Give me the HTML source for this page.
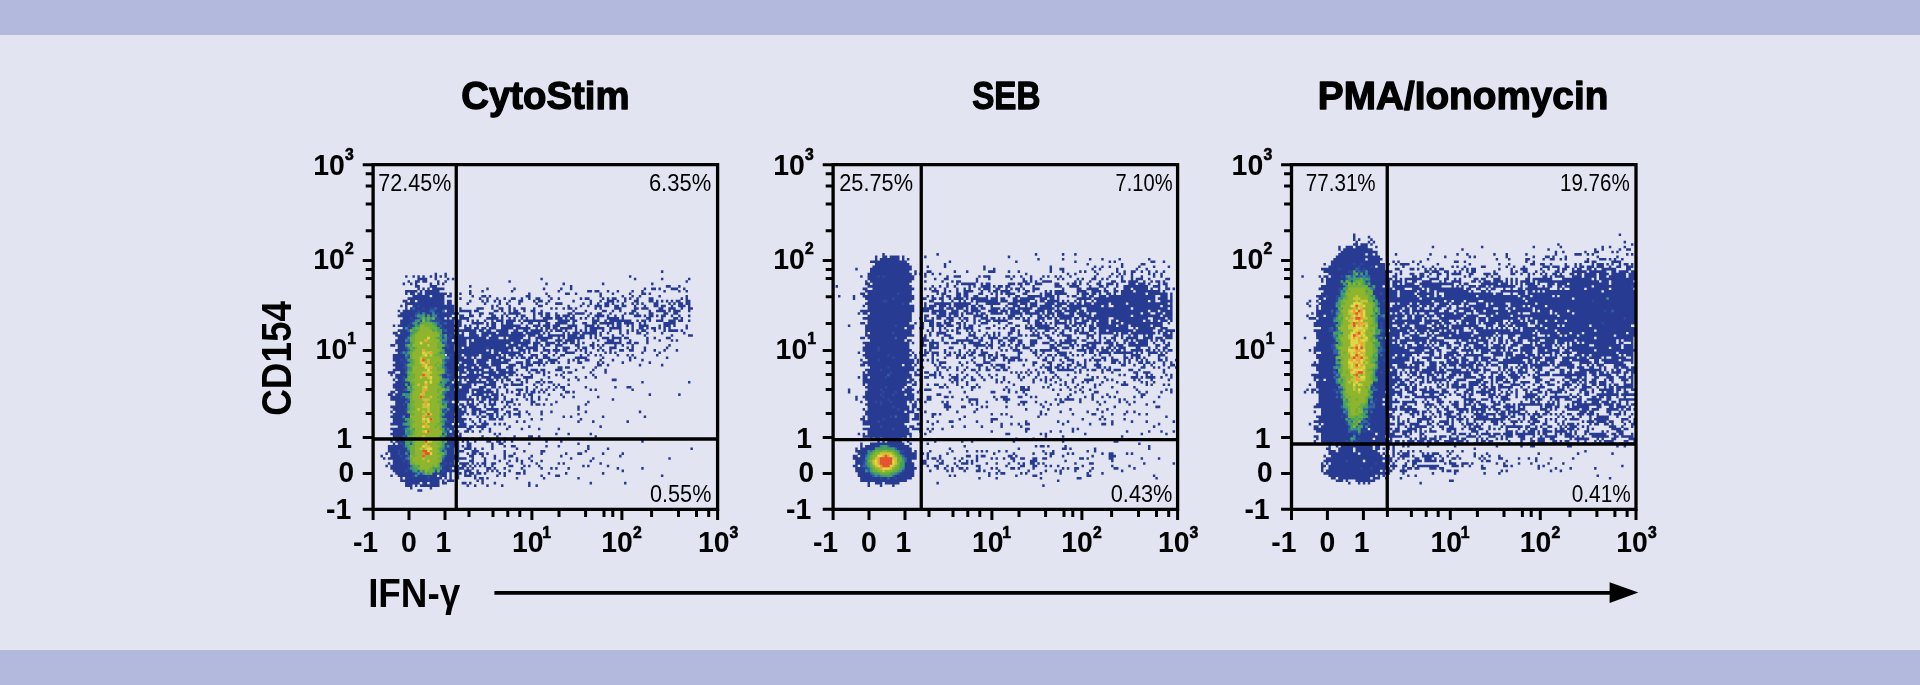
<!DOCTYPE html>
<html lang="en"><head><meta charset="utf-8"><title>CD154 / IFN-γ flow cytometry</title>
<style>html,body{margin:0;padding:0;background:#e2e4f1}body{width:1920px;height:685px;overflow:hidden}svg{display:block;will-change:transform}text{font-family:"Liberation Sans",sans-serif;fill:#000}.b{font-weight:bold}</style></head><body>
<svg width="1920" height="685" viewBox="0 0 1920 685">
<rect width="1920" height="685" fill="#e2e4f1"/>
<rect width="1920" height="35" fill="#b3b9dd"/><rect y="650" width="1920" height="35" fill="#b3b9dd"/>
<g transform="translate(373.1 165.83) scale(2.46)" fill="none" stroke-width="1.06">
<path stroke="#283b93" d="M117 43h1M25 44h1M29 44h1M13 45h1M16 45h1M18 45h1M20 45h1M23 45h1M25 45h1M27 45h1M29 45h1M104 45h1M18 46h4M25 46h1M30 46h1M32 46h1M68 46h1M106 46h1M117 46h1M128 46h1M14 47h1M17 47h2M20 47h2M26 47h1M29 47h1M55 47h1M127 47h1M12 48h1M15 48h1M17 48h1M23 48h1M26 48h1M28 48h1M70 48h1M77 48h1M93 48h1M113 48h1M17 49h2M23 49h3M39 49h1M80 49h1M119 49h2M124 49h1M18 50h1M20 50h1M22 50h1M24 50h5M46 50h1M57 50h1M69 50h1M76 50h1M80 50h1M110 50h1M113 50h2M116 50h1M121 50h3M126 50h1M13 51h5M19 51h1M21 51h6M39 51h1M44 51h1M56 51h1M75 51h1M87 51h2M90 51h2M95 51h1M99 51h1M105 51h1M109 51h1M118 51h1M124 51h1M127 51h1M13 52h1M15 52h2M18 52h2M21 52h9M31 52h1M35 52h1M39 52h1M63 52h1M70 52h1M78 52h2M82 52h1M92 52h1M97 52h1M104 52h1M109 52h2M112 52h1M16 53h7M24 53h5M30 53h2M40 53h1M44 53h2M47 53h1M62 53h2M71 53h1M92 53h1M101 53h1M105 53h1M108 53h1M116 53h1M127 53h1M14 54h15M35 54h1M43 54h1M46 54h1M50 54h1M53 54h1M56 54h2M60 54h1M63 54h1M66 54h2M72 54h1M75 54h1M84 54h1M86 54h2M93 54h1M95 54h1M97 54h2M102 54h1M104 54h1M107 54h1M112 54h2M125 54h1M127 54h1M12 55h2M15 55h2M18 55h11M30 55h2M39 55h1M44 55h1M46 55h1M49 55h1M51 55h1M55 55h1M59 55h2M65 55h1M67 55h2M71 55h1M81 55h1M88 55h1M92 55h1M95 55h3M99 55h1M102 55h1M106 55h2M112 55h2M115 55h1M117 55h1M119 55h1M121 55h1M123 55h2M127 55h2M13 56h16M30 56h2M38 56h1M45 56h1M51 56h1M54 56h1M59 56h1M66 56h1M70 56h1M74 56h3M85 56h1M88 56h1M91 56h1M94 56h2M97 56h1M101 56h1M105 56h1M107 56h1M109 56h1M114 56h2M120 56h1M122 56h1M124 56h2M127 56h2M11 57h1M13 57h1M16 57h17M48 57h1M50 57h1M55 57h1M67 57h2M79 57h1M84 57h1M87 57h1M90 57h3M94 57h2M98 57h2M101 57h2M106 57h1M110 57h1M114 57h2M117 57h2M121 57h1M124 57h3M128 57h1M13 58h1M15 58h18M35 58h1M42 58h3M48 58h1M51 58h2M55 58h1M57 58h1M60 58h2M65 58h1M72 58h1M74 58h1M77 58h1M79 58h2M82 58h1M90 58h1M92 58h1M98 58h3M106 58h2M109 58h3M116 58h2M120 58h3M125 58h1M128 58h2M10 59h1M12 59h17M30 59h3M35 59h5M41 59h2M49 59h2M52 59h1M55 59h1M57 59h2M61 59h1M64 59h2M68 59h1M81 59h1M86 59h1M93 59h2M97 59h1M100 59h1M105 59h2M112 59h1M115 59h4M120 59h1M122 59h3M128 59h1M11 60h24M39 60h1M43 60h2M47 60h2M53 60h1M55 60h5M65 60h1M67 60h2M70 60h2M74 60h1M79 60h2M82 60h4M88 60h1M91 60h2M96 60h1M102 60h1M104 60h2M107 60h1M112 60h2M118 60h2M122 60h2M10 61h22M35 61h2M39 61h2M43 61h1M48 61h2M52 61h1M54 61h1M58 61h1M60 61h2M65 61h1M68 61h1M70 61h2M74 61h2M77 61h3M81 61h1M87 61h1M90 61h4M95 61h1M98 61h1M101 61h1M106 61h3M110 61h1M112 61h2M115 61h1M117 61h2M121 61h1M124 61h1M128 61h1M12 62h17M30 62h1M32 62h2M35 62h4M46 62h5M52 62h1M55 62h1M57 62h1M60 62h1M62 62h1M65 62h1M69 62h4M74 62h3M78 62h1M80 62h2M84 62h1M86 62h1M89 62h1M91 62h1M95 62h5M101 62h1M111 62h2M117 62h1M122 62h2M125 62h1M11 63h22M34 63h2M38 63h1M40 63h1M42 63h1M45 63h1M48 63h1M50 63h3M54 63h4M59 63h1M61 63h10M75 63h5M81 63h2M89 63h3M94 63h1M96 63h9M107 63h1M109 63h2M112 63h1M115 63h3M120 63h3M124 63h2M128 63h1M11 64h22M34 64h2M40 64h5M46 64h1M48 64h2M52 64h1M54 64h3M60 64h1M63 64h2M67 64h1M70 64h2M74 64h5M81 64h1M85 64h2M89 64h2M92 64h6M99 64h2M102 64h4M108 64h1M110 64h1M118 64h5M8 65h1M10 65h26M37 65h1M39 65h1M42 65h1M46 65h1M48 65h2M52 65h8M62 65h1M65 65h3M69 65h3M73 65h3M79 65h4M86 65h4M91 65h1M95 65h1M97 65h1M99 65h2M103 65h1M105 65h1M108 65h4M116 65h1M118 65h3M122 65h1M127 65h1M12 66h21M34 66h1M37 66h3M41 66h2M44 66h2M47 66h3M52 66h5M58 66h6M66 66h1M68 66h1M70 66h2M73 66h2M76 66h5M82 66h1M86 66h1M88 66h6M96 66h5M105 66h1M108 66h2M111 66h1M113 66h2M116 66h1M118 66h1M120 66h1M127 66h1M10 67h32M43 67h2M46 67h2M50 67h5M57 67h2M61 67h2M64 67h5M70 67h1M72 67h1M74 67h3M78 67h1M82 67h1M84 67h1M86 67h1M88 67h3M93 67h1M96 67h1M100 67h1M103 67h1M105 67h1M107 67h1M109 67h2M114 67h1M118 67h1M120 67h4M125 67h1M8 68h2M11 68h22M34 68h1M36 68h1M39 68h3M44 68h6M51 68h4M56 68h5M62 68h6M69 68h1M71 68h1M77 68h1M79 68h1M81 68h3M85 68h6M92 68h1M95 68h1M100 68h1M103 68h1M107 68h2M111 68h1M117 68h1M126 68h1M9 69h28M39 69h4M44 69h3M48 69h14M63 69h3M67 69h2M71 69h7M79 69h4M84 69h2M88 69h1M90 69h1M92 69h1M97 69h1M101 69h1M110 69h1M121 69h1M128 69h2M10 70h36M47 70h4M53 70h1M55 70h6M63 70h1M66 70h7M75 70h1M77 70h1M79 70h7M88 70h1M90 70h1M93 70h3M97 70h4M102 70h2M111 70h1M114 70h1M119 70h2M9 71h23M33 71h5M39 71h1M41 71h19M61 71h3M66 71h1M68 71h3M74 71h3M78 71h4M83 71h1M91 71h1M95 71h3M100 71h1M104 71h1M111 71h1M116 71h1M121 71h1M123 71h1M9 72h29M39 72h17M57 72h7M65 72h3M70 72h4M75 72h1M77 72h2M80 72h2M83 72h1M85 72h1M89 72h1M94 72h7M103 72h2M106 72h2M111 72h1M7 73h2M10 73h23M34 73h4M39 73h15M55 73h4M60 73h3M65 73h2M68 73h1M70 73h2M74 73h3M82 73h2M88 73h2M91 73h1M93 73h1M98 73h1M101 73h1M105 73h1M120 73h1M10 74h23M34 74h2M37 74h20M58 74h3M62 74h5M69 74h1M74 74h1M77 74h3M83 74h1M85 74h2M89 74h1M92 74h1M96 74h3M103 74h1M105 74h1M110 74h1M119 74h1M9 75h24M34 75h12M47 75h1M49 75h6M56 75h1M59 75h3M63 75h1M65 75h2M69 75h3M73 75h3M77 75h2M82 75h1M84 75h1M86 75h1M91 75h1M93 75h1M96 75h1M100 75h2M104 75h2M110 75h1M114 75h1M118 75h1M123 75h1M10 76h38M49 76h2M52 76h8M61 76h1M63 76h1M68 76h1M71 76h1M74 76h1M78 76h4M86 76h1M88 76h1M94 76h1M96 76h1M98 76h1M109 76h1M116 76h1M8 77h21M30 77h6M37 77h6M44 77h8M53 77h1M55 77h3M59 77h2M64 77h3M69 77h2M73 77h1M76 77h2M84 77h1M87 77h1M90 77h1M92 77h1M99 77h1M103 77h1M105 77h1M115 77h1M8 78h29M38 78h2M41 78h1M44 78h6M51 78h3M56 78h1M58 78h1M60 78h2M63 78h2M66 78h1M69 78h3M75 78h1M82 78h5M93 78h1M104 78h1M106 78h1M119 78h1M8 79h33M42 79h5M48 79h4M53 79h3M62 79h2M67 79h2M71 79h4M79 79h1M81 79h1M83 79h1M86 79h2M92 79h1M97 79h1M104 79h1M109 79h1M9 80h26M36 80h5M42 80h4M48 80h7M58 80h3M62 80h2M65 80h4M70 80h1M72 80h2M75 80h1M79 80h1M83 80h2M91 80h1M93 80h1M101 80h1M112 80h1M8 81h26M35 81h2M38 81h4M43 81h4M48 81h4M55 81h3M60 81h1M62 81h3M67 81h1M69 81h1M91 81h2M95 81h1M108 81h1M117 81h1M9 82h31M41 82h2M44 82h4M50 82h2M54 82h3M60 82h3M75 82h2M78 82h2M85 82h1M90 82h1M8 83h29M38 83h7M47 83h2M50 83h4M55 83h2M58 83h1M62 83h1M64 83h3M68 83h2M74 83h3M82 83h1M89 83h1M94 83h1M6 84h3M11 84h23M35 84h3M39 84h2M42 84h1M44 84h6M51 84h7M63 84h1M66 84h2M69 84h1M71 84h1M77 84h1M79 84h2M88 84h1M94 84h1M7 85h1M9 85h25M35 85h1M38 85h7M47 85h7M55 85h2M58 85h1M60 85h1M64 85h1M69 85h1M74 85h1M76 85h1M89 85h1M9 86h34M44 86h4M49 86h3M53 86h2M61 86h4M71 86h1M77 86h1M82 86h1M86 86h1M90 86h1M8 87h1M10 87h23M35 87h1M37 87h1M39 87h3M43 87h1M46 87h3M50 87h1M52 87h1M54 87h2M58 87h2M62 87h1M68 87h1M79 87h1M83 87h1M97 87h2M9 88h23M33 88h3M38 88h8M47 88h3M52 88h1M56 88h1M60 88h1M62 88h1M66 88h2M69 88h1M71 88h2M109 88h1M128 88h1M8 89h32M41 89h1M45 89h5M53 89h2M56 89h5M65 89h1M68 89h1M73 89h1M75 89h1M79 89h1M8 90h27M36 90h4M43 90h3M48 90h2M51 90h1M53 90h1M62 90h1M66 90h1M71 90h1M74 90h1M76 90h2M86 90h1M98 90h1M103 90h2M9 91h24M34 91h5M40 91h5M46 91h2M50 91h1M54 91h1M58 91h3M62 91h1M65 91h1M68 91h1M70 91h1M73 91h1M77 91h1M88 91h1M90 91h1M105 91h1M7 92h2M10 92h29M40 92h1M42 92h7M50 92h1M54 92h1M56 92h1M59 92h1M62 92h1M64 92h2M67 92h1M69 92h1M78 92h2M81 92h1M6 93h2M9 93h29M40 93h5M46 93h1M48 93h3M52 93h1M58 93h2M61 93h1M63 93h2M71 93h1M76 93h1M112 93h1M124 93h1M7 94h31M39 94h1M42 94h1M44 94h4M49 94h2M53 94h1M61 94h1M64 94h1M67 94h1M77 94h1M81 94h1M91 94h1M7 95h34M42 95h1M44 95h2M47 95h4M53 95h1M56 95h1M58 95h1M62 95h1M64 95h1M67 95h1M70 95h1M97 95h1M9 96h23M34 96h1M38 96h1M40 96h1M43 96h2M47 96h1M49 96h1M52 96h1M54 96h3M64 96h2M74 96h1M87 96h1M9 97h25M35 97h2M38 97h3M42 97h1M45 97h1M47 97h3M54 97h1M57 97h1M59 97h1M64 97h1M66 97h2M69 97h1M72 97h1M86 97h1M7 98h28M36 98h2M39 98h3M45 98h1M48 98h1M53 98h1M55 98h1M83 98h1M8 99h28M37 99h1M40 99h4M46 99h5M52 99h1M57 99h2M83 99h1M7 100h1M9 100h29M40 100h2M43 100h3M49 100h2M54 100h2M59 100h1M62 100h1M68 100h1M72 100h1M86 100h1M108 100h1M8 101h25M34 101h3M38 101h1M40 101h2M43 101h1M46 101h3M50 101h1M53 101h1M55 101h1M57 101h3M63 101h1M68 101h1M83 101h1M7 102h29M42 102h1M44 102h2M47 102h2M50 102h1M52 102h1M55 102h1M59 102h1M77 102h1M80 102h1M93 102h1M110 102h1M8 103h25M34 103h4M39 103h1M43 103h1M47 103h3M51 103h2M64 103h1M68 103h1M84 103h1M8 104h25M34 104h3M40 104h1M43 104h1M45 104h1M58 104h1M61 104h1M83 104h1M89 104h1M103 104h1M7 105h25M33 105h1M35 105h3M41 105h1M44 105h3M49 105h1M51 105h1M53 105h1M10 106h28M39 106h2M42 106h4M55 106h1M63 106h1M92 106h1M7 107h26M38 107h2M44 107h1M47 107h1M54 107h1M60 107h1M67 107h1M75 107h1M8 108h23M32 108h3M37 108h2M40 108h1M43 108h1M47 108h1M7 109h27M35 109h1M49 109h1M51 109h1M74 109h1M79 109h1M88 109h1M8 110h28M44 110h1M50 110h1M57 110h1M63 110h2M67 110h1M90 110h1M8 111h24M33 111h6M40 111h1M43 111h1M46 111h1M53 111h1M7 112h1M9 112h26M36 112h1M38 112h1M41 112h1M46 112h2M50 112h2M53 112h1M56 112h1M70 112h1M76 112h1M109 112h1M8 113h1M10 113h25M38 113h2M48 113h1M51 113h2M63 113h1M83 113h1M6 114h29M36 114h1M38 114h2M48 114h1M53 114h1M56 114h2M70 114h1M75 114h1M87 114h1M6 115h27M34 115h1M37 115h3M41 115h1M44 115h1M48 115h1M58 115h1M87 115h1M95 115h1M129 115h1M6 116h27M34 116h3M40 116h3M53 116h1M61 116h1M68 116h2M86 116h1M5 117h1M7 117h26M34 117h1M38 117h1M40 117h2M43 117h2M46 117h1M53 117h1M57 117h1M68 117h1M78 117h1M83 117h2M93 117h1M101 117h1M3 118h1M7 118h28M39 118h2M44 118h1M49 118h1M53 118h1M55 118h2M64 118h1M76 118h1M100 118h1M4 119h1M6 119h32M40 119h1M45 119h1M49 119h1M53 119h1M58 119h1M63 119h1M80 119h1M89 119h1M120 119h1M8 120h25M34 120h1M39 120h2M45 120h1M51 120h1M55 120h1M58 120h1M60 120h1M64 120h1M68 120h1M88 120h1M6 121h1M8 121h25M35 121h4M40 121h1M42 121h1M44 121h2M48 121h2M54 121h1M60 121h1M66 121h1M75 121h1M77 121h1M92 121h1M5 122h1M7 122h28M36 122h2M39 122h1M41 122h1M43 122h1M45 122h1M48 122h1M55 122h2M61 122h1M63 122h1M67 122h1M85 122h1M87 122h1M95 122h1M7 123h25M33 123h4M38 123h1M40 123h1M46 123h2M49 123h1M53 123h1M60 123h1M68 123h1M72 123h1M74 123h1M79 123h1M99 123h1M109 123h1M8 124h27M37 124h3M42 124h1M46 124h1M48 124h1M50 124h1M55 124h1M61 124h1M101 124h1M9 125h21M31 125h1M34 125h2M37 125h1M39 125h2M42 125h2M45 125h1M51 125h1M53 125h1M58 125h2M61 125h1M71 125h1M78 125h1M93 125h1M7 126h1M10 126h16M27 126h3M31 126h1M34 126h1M37 126h3M41 126h1M50 126h1M53 126h1M68 126h1M74 126h2M117 126h1M11 127h1M13 127h15M29 127h1M31 127h1M34 127h1M41 127h1M43 127h2M46 127h1M58 127h1M69 127h1M83 127h1M11 128h16M28 128h1M30 128h3M42 128h1M44 128h1M13 129h6M20 129h2M23 129h4M28 129h2M36 129h2M39 129h1M44 129h1M49 129h1M63 129h1M88 129h1M102 129h1M13 130h3M17 130h1M19 130h8M38 130h1M41 130h1M46 130h1M52 130h1M63 130h1M66 130h1M15 131h1M23 131h1M18 132h2"/>
<path stroke="#2d489d" d="M18 57h1M16 58h1M20 58h1M23 58h3M18 59h1M23 59h2M28 59h1M17 60h2M20 60h2M24 60h1M26 60h1M17 61h9M15 62h1M18 62h9M16 63h12M15 64h12M28 64h2M14 65h1M16 65h12M13 66h1M15 66h14M14 67h16M15 68h13M14 69h16M31 69h1M13 70h18M13 71h17M61 71h1M13 72h17M13 73h18M13 74h16M30 74h1M46 74h1M14 75h15M11 76h19M13 77h16M31 77h1M13 78h18M11 79h1M13 79h18M12 80h1M14 80h16M13 81h16M12 82h18M13 83h18M13 84h17M14 85h15M30 85h2M12 86h1M14 86h15M30 86h1M12 87h19M14 88h16M13 89h1M15 89h14M31 89h1M14 90h17M12 91h19M15 92h15M12 93h17M11 94h1M13 94h17M14 95h15M30 95h1M13 96h18M12 97h1M14 97h16M14 98h16M13 99h16M30 99h1M13 100h17M15 101h14M12 102h1M14 102h15M12 103h18M14 104h17M12 105h17M14 106h16M12 107h19M13 108h18M13 109h17M12 110h18M32 110h1M13 111h18M13 112h17M11 113h1M13 113h16M12 114h19M14 115h16M10 116h1M13 116h17M10 117h1M13 117h1M15 117h15M11 118h1M14 118h16M13 119h16M12 120h1M14 120h15M14 121h13M29 121h1M31 121h1M15 122h14M14 123h14M31 123h1M13 124h1M16 124h11M28 124h1M17 125h7M16 126h2M22 126h1M27 126h1M22 127h1"/>
<path stroke="#3164a4" d="M16 58h1M25 58h1M23 59h2M28 59h1M18 60h1M20 60h1M24 60h1M17 61h4M22 61h1M24 61h2M19 62h6M17 63h2M20 63h4M16 64h2M19 64h8M29 64h1M17 65h9M27 65h1M13 66h1M16 66h11M14 67h14M29 67h1M15 68h13M15 69h15M14 70h14M29 70h1M13 71h17M15 72h13M29 72h1M13 73h17M14 74h14M14 75h15M12 76h17M13 77h16M13 78h1M15 78h16M14 79h15M15 80h15M13 81h16M14 82h16M14 83h16M13 84h17M14 85h14M30 85h1M14 86h14M13 87h18M15 88h15M13 89h1M15 89h14M14 90h15M30 90h1M13 91h18M15 92h15M12 93h17M13 94h16M14 95h15M13 96h1M15 96h16M14 97h16M14 98h16M14 99h15M30 99h1M14 100h14M29 100h1M15 101h14M12 102h1M15 102h13M13 103h17M14 104h15M12 105h17M14 106h14M13 107h16M30 107h1M13 108h17M13 109h15M29 109h1M12 110h1M14 110h16M13 111h17M13 112h17M13 113h2M16 113h13M13 114h16M30 114h1M14 115h15M14 116h14M29 116h1M13 117h1M15 117h15M14 118h15M13 119h16M15 120h13M15 121h12M15 122h13M15 123h13M16 124h2M19 124h6M26 124h1M18 125h1M20 125h4M17 126h1"/>
<path stroke="#368a94" d="M20 60h1M24 60h1M18 61h3M22 61h1M24 61h2M19 62h6M17 63h2M20 63h3M16 64h2M19 64h7M17 65h9M13 66h1M16 66h11M15 67h13M15 68h13M15 69h13M29 69h1M14 70h14M29 70h1M13 71h1M15 71h15M15 72h13M13 73h16M14 74h14M15 75h14M12 76h1M14 76h15M13 77h1M15 77h14M15 78h16M14 79h15M15 80h14M14 81h15M14 82h15M14 83h15M14 84h15M14 85h14M14 86h14M13 87h18M15 88h12M28 88h2M13 89h1M15 89h14M14 90h15M30 90h1M14 91h17M15 92h14M12 93h17M13 94h16M15 95h13M15 96h15M14 97h14M29 97h1M14 98h16M14 99h14M30 99h1M14 100h14M15 101h14M12 102h1M15 102h13M13 103h17M14 104h15M12 105h17M15 106h13M13 107h16M30 107h1M13 108h16M13 109h15M29 109h1M14 110h15M13 111h17M13 112h17M13 113h2M16 113h13M13 114h16M30 114h1M14 115h15M15 116h13M29 116h1M13 117h1M15 117h15M15 118h14M14 119h14M15 120h13M15 121h12M16 122h11M15 123h13M16 124h2M19 124h6M26 124h1M18 125h1M20 125h4M17 126h1"/>
<path stroke="#43a35c" d="M18 61h1M20 61h1M22 61h1M20 62h1M22 62h1M24 62h1M18 63h1M20 63h1M22 63h1M17 64h1M19 64h6M17 65h1M19 65h7M16 66h11M15 67h13M16 68h12M15 69h12M29 69h1M15 70h13M15 71h12M15 72h13M14 73h15M15 74h13M15 75h14M14 76h13M28 76h1M15 77h14M15 78h14M14 79h14M15 80h14M14 81h14M15 82h13M14 83h15M14 84h15M14 85h13M14 86h14M13 87h16M15 88h12M28 88h1M13 89h1M15 89h14M14 90h1M16 90h12M14 91h17M15 92h13M12 93h1M15 93h13M14 94h15M15 95h13M15 96h13M14 97h14M29 97h1M14 98h16M15 99h13M14 100h14M15 101h14M15 102h13M13 103h16M14 104h14M13 105h16M15 106h13M14 107h15M13 108h1M15 108h14M15 109h13M29 109h1M14 110h15M13 111h17M13 112h2M16 112h12M29 112h1M13 113h2M16 113h13M14 114h15M14 115h14M15 116h13M15 117h14M15 118h13M15 119h13M15 120h13M15 121h12M16 122h11M16 123h9M26 123h1M17 124h1M19 124h1M21 124h4M26 124h1M21 125h3"/>
<path stroke="#6dae3e" d="M20 62h1M22 62h1M24 62h1M20 63h1M20 64h4M19 65h6M17 66h9M15 67h1M18 67h6M25 67h1M17 68h10M16 69h11M15 70h11M15 71h12M16 72h12M14 73h1M16 73h13M15 74h1M17 74h11M16 75h12M15 76h12M15 77h14M15 78h14M16 79h12M16 80h12M14 81h14M16 82h12M16 83h13M14 84h15M15 85h12M14 86h14M14 87h14M15 88h12M16 89h11M14 90h1M16 90h12M16 91h13M16 92h12M15 93h13M15 94h14M15 95h13M15 96h13M15 97h13M15 98h14M15 99h12M14 100h14M15 101h12M15 102h12M15 103h13M15 104h12M15 105h13M15 106h13M15 107h1M17 107h11M16 108h12M16 109h12M14 110h13M16 111h12M16 112h12M29 112h1M16 113h12M15 114h13M15 115h12M15 116h12M15 117h14M15 118h13M15 119h13M15 120h13M15 121h12M17 122h1M19 122h8M18 123h6M19 124h1M21 124h4M26 124h1M21 125h1M23 125h1"/>
<path stroke="#8fb52f" d="M20 63h1M19 65h2M19 66h4M19 67h5M18 68h8M17 69h10M17 70h8M17 71h10M17 72h9M16 73h10M18 74h8M17 75h10M16 76h10M16 77h9M16 78h11M17 79h11M17 80h9M27 80h1M17 81h8M26 81h1M16 82h10M16 83h10M16 84h12M17 85h9M17 86h10M16 87h11M17 88h10M17 89h9M16 90h11M17 91h9M28 91h1M16 92h10M27 92h1M16 93h11M16 94h10M16 95h11M17 96h9M16 97h11M17 98h10M17 99h10M16 100h11M17 101h10M15 102h12M16 103h11M17 104h10M16 105h10M16 106h9M26 106h1M17 107h10M17 108h11M17 109h11M16 110h11M17 111h10M17 112h10M17 113h9M17 114h10M17 115h9M17 116h10M17 117h9M15 118h1M17 118h10M16 119h10M16 120h11M17 121h9M19 122h5M25 122h1M19 123h4M21 124h1"/>
<path stroke="#c4c838" d="M22 70h1M21 71h1M19 72h1M22 73h1M20 75h1M20 76h4M20 77h2M23 77h1M19 78h1M19 79h2M22 79h1M19 80h2M22 80h1M20 81h2M21 82h3M22 83h1M20 84h4M20 85h3M19 86h1M22 86h2M23 87h1M21 88h1M23 88h1M18 89h1M21 89h1M20 90h2M20 91h2M20 92h1M19 93h2M19 94h1M23 94h1M20 95h3M21 96h1M20 97h3M20 98h3M18 99h1M22 99h1M20 100h1M22 100h1M21 101h3M20 102h1M20 103h4M20 104h1M22 104h1M21 105h1M20 106h3M20 108h3M20 110h1M21 111h4M21 112h3M21 113h1M20 114h3M19 115h1M21 115h3M20 116h3M21 117h3M20 118h1M20 119h1M22 120h1"/>
<path stroke="#e3d746" d="M22 70h1M21 71h1M19 72h1M20 75h1M20 76h1M23 76h1M21 77h1M20 79h1M20 80h1M22 80h1M20 81h2M21 82h1M23 82h1M22 83h1M20 85h2M23 86h1M21 88h1M23 88h1M21 89h1M21 90h1M20 91h2M20 93h1M19 94h1M21 96h1M21 97h2M22 101h1M20 102h1M20 103h1M22 103h2M20 104h1M22 104h1M20 106h2M21 108h2M20 110h1M21 111h1M21 112h2M20 114h1M22 114h1M22 115h2M20 116h3M21 117h3M20 118h1"/>
<path stroke="#e9a33a" d="M21 71h1M20 75h1M23 76h1M20 79h1M22 80h1M20 81h1M23 82h1M20 85h2M21 89h1M20 91h2M20 93h1M19 94h1M21 96h1M21 97h1M22 101h1M20 102h1M23 103h1M20 104h1M21 106h1M22 108h1M20 110h1M21 112h1M22 114h1M20 116h2M21 117h2M20 118h1"/>
<path stroke="#e3552e" d="M20 79h1M20 85h1M19 94h1M22 101h1M23 103h1M22 108h1M21 112h1M20 116h2M21 117h2M20 118h1"/>
</g>
<g transform="translate(833.1 165.83) scale(2.46)" fill="none" stroke-width="1.06">
<path stroke="#283b93" d="M20 36h1M42 36h1M82 36h1M93 36h1M98 36h1M17 37h1M20 37h2M23 37h4M28 37h1M37 37h1M71 37h1M17 38h1M19 38h8M28 38h1M30 38h1M83 38h1M93 38h1M104 38h1M109 38h1M116 38h1M128 38h1M15 39h15M47 39h1M74 39h1M98 39h1M112 39h1M114 39h1M129 39h2M134 39h1M17 40h14M45 40h1M103 40h1M117 40h1M125 40h2M16 41h16M38 41h1M45 41h1M61 41h1M88 41h1M106 41h1M109 41h1M112 41h1M117 41h1M124 41h1M130 41h1M136 41h1M9 42h1M15 42h17M61 42h1M65 42h1M88 42h1M92 42h2M105 42h1M108 42h1M115 42h1M123 42h1M127 42h1M15 43h16M33 43h1M38 43h2M49 43h1M54 43h1M63 43h3M71 43h1M75 43h1M88 43h1M93 43h1M100 43h1M102 43h1M106 43h1M115 43h1M118 43h1M121 43h2M125 43h1M128 43h1M131 43h1M134 43h1M14 44h18M33 44h1M35 44h1M37 44h1M40 44h1M43 44h1M78 44h1M95 44h1M98 44h1M107 44h1M113 44h1M116 44h1M118 44h1M121 44h1M128 44h1M130 44h1M133 44h1M11 45h1M14 45h19M37 45h1M46 45h1M49 45h3M59 45h1M61 45h3M70 45h2M73 45h1M76 45h1M80 45h1M85 45h1M87 45h1M90 45h1M92 45h1M96 45h1M106 45h1M112 45h1M115 45h1M117 45h1M121 45h1M125 45h1M130 45h1M133 45h1M14 46h19M41 46h1M45 46h2M58 46h1M63 46h1M72 46h1M77 46h1M80 46h1M84 46h1M91 46h1M93 46h1M99 46h1M101 46h1M105 46h2M109 46h1M111 46h1M117 46h1M121 46h1M123 46h3M128 46h1M135 46h2M13 47h1M15 47h17M37 47h1M44 47h1M48 47h1M50 47h2M58 47h1M77 47h2M80 47h1M82 47h1M85 47h4M98 47h1M100 47h1M104 47h1M108 47h1M113 47h2M117 47h2M120 47h4M126 47h1M129 47h1M131 47h2M134 47h1M13 48h2M16 48h15M46 48h1M50 48h1M52 48h6M60 48h1M62 48h2M71 48h3M75 48h2M78 48h2M82 48h3M90 48h2M95 48h1M97 48h2M100 48h1M103 48h1M107 48h2M111 48h3M115 48h1M120 48h3M124 48h3M128 48h1M132 48h1M134 48h2M1 49h1M14 49h18M40 49h1M43 49h1M46 49h1M49 49h1M55 49h1M57 49h1M60 49h4M65 49h1M67 49h2M70 49h2M76 49h1M81 49h1M90 49h3M96 49h4M104 49h1M108 49h2M111 49h1M115 49h1M118 49h10M130 49h3M135 49h1M12 50h2M16 50h17M37 50h1M39 50h1M41 50h1M45 50h1M50 50h1M53 50h1M55 50h1M59 50h1M61 50h3M66 50h2M70 50h1M72 50h1M74 50h2M77 50h1M81 50h3M93 50h1M99 50h2M103 50h5M110 50h1M114 50h1M118 50h3M122 50h6M129 50h1M132 50h1M135 50h2M138 50h1M13 51h19M40 51h3M45 51h1M47 51h1M50 51h1M53 51h4M60 51h1M63 51h1M65 51h2M68 51h4M75 51h1M78 51h2M81 51h1M86 51h1M88 51h1M90 51h4M99 51h4M105 51h4M110 51h2M114 51h2M117 51h5M123 51h10M134 51h1M11 52h2M14 52h18M42 52h1M44 52h2M50 52h2M53 52h2M59 52h2M64 52h1M66 52h1M68 52h1M70 52h4M77 52h2M84 52h1M86 52h3M90 52h5M99 52h1M101 52h3M105 52h2M108 52h1M111 52h2M114 52h1M117 52h10M128 52h8M137 52h1M2 53h1M8 53h1M12 53h21M38 53h1M40 53h1M44 53h1M46 53h2M50 53h2M53 53h2M57 53h2M62 53h1M66 53h1M71 53h1M74 53h2M79 53h6M86 53h4M91 53h1M95 53h1M97 53h2M101 53h2M104 53h2M108 53h3M112 53h19M133 53h3M137 53h1M8 54h1M13 54h20M36 54h2M40 54h2M43 54h2M47 54h1M49 54h4M54 54h1M56 54h7M64 54h3M68 54h2M73 54h2M76 54h6M84 54h3M88 54h2M91 54h1M99 54h6M106 54h25M132 54h4M137 54h1M14 55h18M39 55h2M44 55h1M48 55h1M51 55h1M53 55h1M56 55h1M58 55h9M68 55h3M73 55h7M82 55h1M84 55h2M87 55h5M93 55h1M95 55h1M98 55h1M100 55h1M102 55h1M105 55h1M107 55h21M129 55h2M133 55h5M13 56h18M37 56h1M41 56h7M49 56h7M58 56h1M62 56h6M71 56h4M76 56h3M80 56h3M86 56h4M91 56h4M96 56h2M99 56h2M102 56h3M106 56h6M113 56h6M120 56h16M137 56h1M12 57h1M14 57h19M37 57h1M39 57h3M43 57h3M47 57h1M49 57h6M56 57h2M59 57h2M64 57h1M70 57h1M73 57h3M78 57h1M80 57h3M84 57h5M90 57h3M95 57h14M110 57h2M114 57h19M134 57h4M14 58h19M36 58h5M43 58h2M46 58h3M50 58h3M54 58h1M56 58h3M60 58h2M64 58h4M69 58h1M71 58h3M75 58h6M83 58h7M91 58h1M93 58h2M96 58h5M103 58h18M122 58h14M137 58h1M11 59h22M36 59h3M40 59h6M48 59h3M53 59h2M56 59h4M63 59h4M68 59h3M72 59h4M77 59h3M82 59h4M87 59h2M90 59h3M94 59h5M100 59h2M103 59h25M129 59h3M133 59h5M10 60h1M12 60h2M15 60h17M40 60h2M43 60h3M47 60h4M52 60h1M54 60h3M58 60h1M60 60h2M64 60h5M70 60h1M72 60h5M78 60h6M85 60h1M87 60h3M91 60h3M96 60h2M99 60h4M104 60h1M107 60h18M126 60h3M131 60h3M135 60h3M14 61h18M37 61h2M42 61h4M47 61h1M49 61h2M52 61h1M57 61h4M62 61h1M71 61h3M76 61h1M80 61h1M83 61h2M86 61h2M89 61h1M91 61h7M100 61h5M106 61h15M122 61h11M134 61h4M12 62h20M35 62h1M37 62h1M40 62h1M42 62h2M46 62h3M51 62h1M53 62h2M57 62h1M60 62h3M64 62h2M67 62h1M69 62h1M71 62h2M74 62h2M77 62h1M79 62h1M83 62h3M87 62h2M90 62h1M92 62h5M98 62h2M101 62h1M103 62h9M114 62h14M130 62h5M136 62h2M14 63h18M37 63h4M45 63h1M47 63h2M52 63h1M54 63h1M57 63h1M59 63h1M62 63h2M65 63h6M77 63h3M82 63h2M85 63h1M90 63h2M94 63h1M96 63h1M98 63h1M101 63h3M105 63h2M108 63h4M113 63h2M116 63h10M127 63h2M130 63h2M133 63h3M137 63h1M11 64h2M14 64h17M33 64h1M36 64h1M39 64h2M42 64h2M45 64h3M50 64h2M53 64h1M57 64h1M60 64h3M67 64h1M71 64h2M79 64h1M82 64h3M86 64h1M88 64h1M90 64h5M96 64h1M98 64h5M105 64h1M107 64h5M113 64h4M118 64h16M136 64h1M6 65h1M13 65h20M36 65h1M39 65h2M42 65h3M46 65h3M51 65h1M53 65h1M55 65h2M59 65h1M65 65h1M70 65h1M74 65h2M78 65h1M80 65h1M82 65h6M90 65h1M94 65h2M97 65h2M100 65h1M102 65h1M104 65h2M107 65h8M116 65h4M121 65h8M130 65h4M13 66h16M30 66h3M35 66h2M40 66h1M43 66h1M45 66h1M50 66h2M53 66h4M62 66h2M67 66h1M69 66h1M72 66h2M78 66h4M83 66h7M91 66h1M94 66h3M99 66h1M101 66h1M104 66h3M108 66h12M122 66h1M124 66h7M133 66h3M13 67h19M38 67h1M40 67h1M43 67h1M46 67h1M48 67h1M50 67h1M54 67h1M56 67h1M59 67h1M72 67h2M75 67h1M80 67h1M82 67h1M86 67h2M90 67h1M93 67h1M96 67h1M98 67h2M101 67h1M104 67h2M108 67h3M112 67h10M123 67h7M132 67h2M135 67h4M13 68h1M15 68h17M39 68h1M42 68h4M50 68h2M55 68h1M57 68h1M62 68h1M65 68h1M67 68h1M71 68h2M75 68h1M81 68h1M83 68h1M85 68h1M89 68h1M92 68h2M98 68h1M100 68h4M106 68h1M108 68h6M115 68h1M117 68h3M121 68h10M132 68h1M134 68h2M137 68h1M13 69h20M37 69h1M39 69h1M42 69h1M45 69h3M55 69h3M61 69h1M63 69h1M65 69h1M67 69h1M71 69h1M75 69h2M78 69h1M80 69h4M86 69h2M91 69h1M93 69h4M103 69h3M108 69h1M114 69h2M117 69h1M120 69h1M122 69h2M126 69h1M128 69h2M134 69h4M11 70h2M14 70h16M36 70h2M44 70h1M47 70h2M54 70h1M57 70h2M60 70h1M63 70h4M69 70h2M72 70h3M83 70h2M87 70h2M95 70h2M99 70h1M103 70h1M105 70h1M108 70h1M110 70h1M113 70h2M117 70h1M119 70h5M126 70h4M131 70h3M135 70h3M15 71h14M30 71h2M36 71h3M40 71h1M44 71h1M50 71h7M59 71h2M64 71h1M67 71h2M71 71h3M75 71h2M80 71h3M88 71h2M92 71h1M94 71h5M101 71h2M106 71h1M108 71h1M111 71h2M114 71h1M118 71h2M121 71h1M123 71h5M129 71h1M131 71h1M133 71h2M12 72h19M32 72h1M36 72h1M39 72h4M45 72h2M48 72h3M52 72h1M55 72h5M62 72h1M64 72h1M67 72h1M69 72h1M72 72h1M75 72h2M80 72h3M85 72h3M90 72h1M92 72h5M98 72h1M103 72h6M110 72h4M115 72h1M118 72h1M120 72h3M124 72h4M130 72h1M134 72h1M136 72h1M13 73h18M36 73h2M39 73h2M42 73h1M53 73h1M57 73h5M63 73h2M68 73h2M71 73h1M74 73h2M77 73h1M80 73h2M88 73h2M91 73h2M96 73h2M99 73h1M101 73h3M105 73h2M112 73h2M115 73h3M120 73h8M131 73h2M135 73h2M12 74h19M39 74h4M47 74h2M53 74h1M58 74h1M62 74h1M64 74h1M67 74h1M72 74h1M74 74h1M77 74h3M88 74h3M93 74h3M97 74h1M101 74h1M103 74h4M109 74h1M111 74h2M114 74h1M116 74h3M123 74h2M128 74h1M131 74h1M134 74h2M12 75h20M37 75h1M39 75h1M45 75h1M51 75h1M55 75h1M57 75h1M60 75h1M68 75h1M70 75h1M73 75h3M80 75h1M82 75h1M84 75h5M90 75h2M99 75h4M104 75h2M107 75h1M109 75h3M113 75h1M115 75h2M118 75h1M121 75h5M127 75h2M130 75h1M132 75h1M134 75h1M136 75h2M10 76h1M13 76h18M32 76h1M35 76h1M37 76h2M40 76h3M45 76h1M47 76h1M49 76h1M51 76h1M54 76h1M56 76h2M60 76h3M66 76h1M75 76h2M81 76h2M85 76h1M91 76h4M96 76h1M102 76h1M104 76h2M108 76h5M114 76h8M123 76h1M125 76h1M128 76h4M133 76h1M135 76h1M12 77h20M33 77h1M36 77h2M40 77h1M42 77h1M46 77h2M50 77h2M53 77h1M55 77h2M59 77h3M63 77h2M66 77h1M68 77h2M75 77h1M82 77h1M84 77h1M87 77h2M90 77h1M92 77h3M97 77h1M99 77h1M101 77h1M106 77h1M108 77h1M112 77h1M118 77h1M121 77h4M128 77h1M132 77h3M13 78h18M33 78h1M40 78h1M45 78h1M50 78h1M52 78h2M57 78h1M61 78h1M63 78h1M65 78h2M69 78h2M72 78h4M83 78h1M86 78h1M89 78h1M94 78h2M105 78h1M109 78h2M113 78h1M118 78h2M121 78h1M123 78h2M126 78h1M132 78h1M135 78h1M11 79h1M14 79h19M34 79h1M36 79h1M38 79h1M40 79h1M42 79h1M56 79h1M61 79h1M64 79h2M69 79h1M71 79h3M75 79h2M78 79h1M85 79h2M89 79h1M92 79h1M95 79h3M102 79h1M104 79h1M106 79h3M110 79h1M113 79h3M118 79h1M120 79h1M123 79h1M125 79h1M127 79h1M132 79h2M135 79h1M139 79h1M12 80h21M34 80h1M40 80h1M43 80h3M51 80h1M54 80h1M57 80h1M61 80h3M71 80h1M81 80h2M87 80h2M93 80h1M97 80h1M99 80h1M102 80h1M107 80h1M113 80h2M116 80h1M118 80h1M120 80h1M124 80h2M127 80h2M130 80h1M134 80h1M137 80h1M11 81h2M14 81h14M29 81h3M33 81h1M41 81h1M43 81h1M52 81h1M58 81h3M64 81h1M66 81h4M77 81h1M81 81h1M85 81h1M88 81h1M91 81h2M95 81h2M99 81h2M102 81h1M106 81h3M117 81h2M122 81h1M126 81h1M129 81h1M134 81h1M137 81h2M15 82h18M36 82h1M42 82h1M44 82h2M47 82h1M50 82h1M54 82h1M59 82h1M62 82h1M65 82h1M68 82h2M71 82h1M84 82h1M86 82h3M90 82h2M93 82h1M95 82h1M98 82h1M101 82h2M107 82h2M110 82h1M112 82h1M125 82h2M130 82h1M132 82h1M136 82h1M139 82h1M13 83h20M34 83h2M42 83h1M46 83h1M50 83h1M53 83h1M56 83h2M59 83h1M62 83h2M66 83h2M69 83h2M79 83h1M82 83h1M87 83h2M91 83h7M100 83h1M103 83h1M105 83h2M109 83h1M111 83h2M114 83h3M120 83h2M124 83h1M134 83h1M12 84h1M14 84h17M33 84h1M37 84h2M41 84h1M43 84h1M52 84h1M58 84h1M72 84h1M74 84h1M76 84h1M78 84h1M80 84h1M83 84h1M85 84h1M88 84h2M98 84h1M100 84h1M109 84h1M113 84h1M122 84h2M126 84h3M134 84h1M12 85h20M33 85h3M39 85h3M43 85h1M47 85h1M50 85h1M54 85h1M59 85h1M63 85h1M66 85h1M75 85h1M79 85h1M83 85h1M90 85h1M95 85h1M103 85h1M116 85h1M118 85h1M123 85h1M127 85h1M129 85h1M135 85h1M137 85h1M10 86h1M12 86h2M15 86h17M37 86h2M41 86h1M44 86h1M48 86h3M53 86h1M56 86h1M60 86h1M64 86h1M69 86h1M75 86h1M77 86h1M82 86h1M86 86h1M89 86h1M91 86h1M98 86h1M105 86h1M107 86h1M110 86h1M121 86h3M125 86h1M127 86h4M133 86h1M137 86h1M12 87h18M31 87h2M35 87h1M47 87h1M49 87h2M52 87h1M56 87h2M61 87h1M66 87h1M69 87h1M76 87h1M81 87h1M84 87h1M86 87h1M88 87h1M92 87h1M97 87h1M102 87h4M111 87h1M113 87h1M122 87h1M124 87h1M129 87h1M136 87h1M12 88h20M33 88h1M48 88h1M50 88h1M54 88h1M66 88h1M68 88h1M71 88h1M81 88h1M86 88h1M90 88h1M94 88h1M97 88h1M101 88h1M103 88h1M109 88h1M115 88h1M118 88h1M125 88h1M127 88h1M130 88h1M12 89h1M14 89h16M32 89h2M38 89h1M41 89h2M45 89h1M50 89h1M54 89h1M58 89h1M73 89h1M88 89h1M92 89h1M94 89h1M99 89h1M106 89h1M108 89h1M117 89h3M127 89h1M129 89h1M134 89h1M136 89h1M13 90h16M30 90h2M43 90h2M46 90h1M52 90h1M56 90h2M59 90h1M70 90h1M76 90h2M79 90h1M85 90h1M87 90h1M95 90h1M98 90h1M101 90h1M106 90h1M113 90h1M122 90h1M6 91h1M14 91h14M29 91h4M35 91h1M37 91h3M56 91h1M69 91h1M71 91h1M76 91h4M89 91h1M92 91h1M96 91h1M100 91h1M104 91h1M123 91h1M135 91h1M137 91h1M6 92h1M13 92h19M34 92h1M47 92h1M53 92h1M64 92h2M71 92h1M74 92h1M77 92h1M98 92h1M101 92h1M106 92h2M115 92h1M124 92h1M127 92h1M133 92h1M137 92h1M13 93h16M30 93h3M42 93h2M78 93h1M91 93h1M96 93h1M105 93h1M111 93h1M125 93h2M9 94h1M12 94h21M38 94h2M45 94h2M48 94h1M54 94h1M65 94h1M68 94h3M75 94h2M80 94h1M82 94h1M95 94h1M102 94h1M105 94h1M109 94h1M112 94h1M114 94h1M122 94h1M125 94h1M132 94h1M9 95h1M13 95h20M34 95h2M38 95h2M52 95h1M55 95h4M66 95h1M69 95h3M90 95h1M92 95h1M94 95h4M100 95h1M105 95h1M116 95h1M118 95h1M11 96h1M14 96h16M31 96h1M33 96h1M35 96h1M37 96h1M44 96h1M46 96h1M55 96h1M58 96h1M62 96h1M70 96h1M76 96h3M82 96h1M86 96h1M92 96h2M100 96h1M107 96h1M110 96h1M116 96h1M119 96h1M122 96h1M130 96h1M13 97h17M32 97h2M45 97h2M56 97h1M58 97h1M75 97h1M77 97h1M84 97h1M88 97h1M91 97h1M108 97h1M120 97h1M127 97h1M14 98h17M32 98h2M45 98h3M52 98h2M60 98h1M62 98h1M70 98h1M85 98h1M114 98h1M131 98h2M12 99h1M14 99h17M32 99h1M34 99h2M46 99h1M58 99h1M78 99h1M87 99h1M96 99h1M107 99h1M111 99h1M13 100h16M30 100h3M37 100h1M50 100h1M57 100h1M84 100h1M92 100h1M103 100h1M109 100h1M119 100h1M122 100h1M13 101h18M33 101h2M40 101h2M43 101h1M64 101h1M68 101h1M70 101h1M84 101h1M86 101h1M97 101h1M105 101h2M113 101h1M118 101h1M124 101h1M127 101h1M12 102h1M14 102h17M33 102h2M40 102h1M53 102h1M72 102h1M83 102h1M109 102h1M135 102h1M11 103h2M14 103h17M32 103h3M51 103h1M64 103h3M101 103h1M108 103h1M110 103h1M118 103h1M12 104h19M38 104h1M42 104h1M47 104h2M58 104h1M64 104h1M78 104h1M91 104h1M95 104h1M113 104h1M121 104h1M127 104h1M138 104h1M12 105h17M34 105h2M40 105h1M68 105h1M72 105h1M75 105h1M78 105h2M93 105h1M104 105h1M109 105h2M113 105h1M132 105h1M15 106h15M31 106h2M48 106h1M53 106h1M60 106h1M68 106h1M76 106h1M130 106h1M12 107h19M32 107h4M38 107h1M40 107h1M44 107h1M78 107h2M97 107h1M99 107h1M14 108h17M35 108h1M39 108h1M64 108h1M78 108h1M88 108h1M92 108h1M97 108h1M119 108h1M128 108h1M133 108h1M138 108h1M10 109h1M12 109h1M14 109h18M37 109h1M70 109h2M84 109h1M86 109h1M102 109h1M125 109h1M135 109h1M12 110h18M31 110h1M86 110h1M93 110h1M117 110h1M15 111h1M17 111h2M20 111h8M29 111h1M35 111h1M74 111h1M81 111h1M18 112h1M20 112h1M22 112h6M30 112h1M41 112h1M52 112h1M56 112h1M73 112h1M93 112h1M114 112h2M11 113h1M15 113h14M31 113h1M38 113h1M124 113h1M11 114h1M13 114h18M53 114h1M82 114h1M84 114h2M87 114h1M94 114h1M128 114h1M9 115h1M11 115h21M47 115h1M75 115h1M93 115h2M96 115h1M106 115h1M128 115h1M9 116h23M33 116h1M39 116h1M48 116h1M54 116h1M58 116h1M60 116h1M62 116h1M67 116h1M70 116h1M85 116h1M89 116h1M103 116h1M106 116h1M10 117h24M36 117h1M38 117h1M46 117h1M65 117h1M73 117h1M81 117h1M86 117h1M88 117h2M95 117h1M97 117h1M109 117h1M112 117h2M119 117h1M121 117h1M8 118h2M11 118h23M38 118h1M43 118h1M54 118h2M58 118h1M60 118h2M71 118h2M74 118h1M88 118h1M93 118h1M105 118h1M112 118h3M8 119h26M38 119h1M40 119h2M43 119h1M49 119h1M52 119h1M58 119h1M64 119h1M66 119h1M69 119h1M72 119h2M76 119h2M81 119h2M85 119h2M100 119h2M103 119h1M112 119h2M125 119h1M132 119h1M9 120h23M36 120h2M42 120h1M44 120h1M51 120h1M54 120h1M56 120h1M58 120h1M73 120h1M80 120h3M94 120h1M113 120h1M9 121h24M36 121h2M43 121h2M49 121h1M52 121h3M56 121h1M62 121h1M66 121h1M71 121h1M75 121h1M77 121h1M80 121h2M83 121h1M85 121h1M98 121h1M104 121h2M126 121h1M138 121h1M8 122h2M11 122h22M38 122h1M41 122h2M46 122h1M50 122h1M58 122h2M70 122h1M76 122h2M81 122h2M86 122h1M88 122h1M91 122h1M101 122h1M113 122h1M120 122h1M9 123h25M42 123h1M45 123h1M48 123h1M51 123h2M54 123h1M59 123h1M64 123h1M66 123h1M72 123h2M75 123h1M81 123h1M93 123h1M95 123h1M98 123h2M105 123h1M114 123h2M122 123h1M9 124h24M39 124h1M46 124h1M48 124h1M53 124h1M58 124h2M61 124h1M67 124h1M79 124h1M86 124h1M90 124h1M92 124h1M98 124h1M104 124h1M117 124h1M10 125h23M63 125h1M66 125h1M68 125h2M76 125h1M78 125h1M84 125h1M92 125h1M103 125h1M109 125h1M10 126h23M47 126h1M49 126h1M63 126h1M74 126h1M81 126h2M103 126h2M130 126h1M11 127h21M59 127h1M66 127h1M84 127h1M99 127h2M131 127h1M11 128h19M91 128h1M14 129h1M17 129h3M21 129h6M42 129h1M14 130h1M19 130h1M24 130h1M85 130h1"/>
<path stroke="#2d489d" d="M18 45h1M20 45h1M26 52h1M24 54h1M20 55h2M28 56h1M25 65h1M24 68h1M25 70h1M18 74h1M18 75h1M22 77h1M24 78h1M18 79h1M22 82h1M19 83h1M23 84h1M22 85h1M21 86h1M21 90h1M19 91h1M20 92h1M25 92h1M19 93h1M24 93h1M20 94h1M22 95h1M17 96h1M19 96h1M23 96h1M19 97h1M24 98h1M26 99h1M23 102h1M25 102h1M20 103h1M18 104h1M19 106h1M24 107h1M19 114h4M17 115h9M14 116h15M14 117h14M13 118h16M13 119h17M12 120h18M12 121h17M12 122h17M13 123h16M13 124h16M15 125h12M16 126h9M19 127h1M22 127h1M25 127h1"/>
<path stroke="#3164a4" d="M25 70h1M22 85h1M25 102h1M19 114h4M17 115h9M14 116h13M14 117h13M13 118h16M13 119h17M13 120h17M13 121h16M12 122h17M14 123h15M13 124h15M15 125h12M16 126h9M22 127h1"/>
<path stroke="#368a94" d="M19 114h3M17 115h8M14 116h1M16 116h11M14 117h13M14 118h14M13 119h16M14 120h15M13 121h16M14 122h15M15 123h14M13 124h1M15 124h13M16 125h10M17 126h1M19 126h5"/>
<path stroke="#43a35c" d="M20 114h2M17 115h8M16 116h10M15 117h12M14 118h14M14 119h14M14 120h15M14 121h15M14 122h15M15 123h13M15 124h12M17 125h8M20 126h4"/>
<path stroke="#6dae3e" d="M17 116h8M16 117h10M15 118h12M15 119h13M14 120h14M15 121h12M15 122h12M16 123h11M16 124h10M19 125h4"/>
<path stroke="#8fb52f" d="M20 116h2M17 117h8M16 118h10M16 119h10M15 120h11M16 121h11M16 122h10M17 123h8M18 124h6"/>
<path stroke="#c4c838" d="M19 117h5M18 118h7M17 119h9M16 120h10M16 121h10M17 122h8M19 123h5M20 124h1"/>
<path stroke="#e3d746" d="M18 118h6M18 119h6M17 120h8M17 121h8M18 122h6M19 123h4"/>
<path stroke="#e9a33a" d="M20 118h3M18 119h6M18 120h6M18 121h6M19 122h4M19 123h1"/>
<path stroke="#e3552e" d="M21 118h1M19 119h5M19 120h5M19 121h5M20 122h3"/>
</g>
<g transform="translate(1291.5 165.83) scale(2.46)" fill="none" stroke-width="1.06">
<path stroke="#283b93" d="M25 28h1M133 28h1M25 29h1M31 29h1M25 30h1M27 30h1M32 30h1M26 31h1M31 31h1M33 31h1M135 31h1M25 32h2M28 32h3M32 32h1M108 32h1M138 32h1M19 33h1M22 33h3M26 33h5M34 33h1M57 33h1M77 33h1M98 33h1M109 33h1M126 33h1M129 33h1M135 33h1M19 34h1M21 34h12M69 34h1M104 34h1M123 34h1M126 34h1M133 34h1M136 34h2M20 35h15M107 35h1M110 35h1M119 35h1M123 35h2M130 35h1M132 35h1M19 36h11M31 36h2M34 36h1M42 36h1M56 36h1M67 36h1M71 36h1M82 36h1M87 36h1M95 36h1M107 36h1M115 36h3M120 36h1M122 36h1M136 36h1M138 36h1M18 37h18M62 37h1M72 37h1M74 37h1M87 37h1M98 37h1M103 37h2M106 37h1M111 37h1M124 37h1M132 37h1M17 38h13M31 38h6M55 38h1M83 38h1M88 38h1M95 38h2M102 38h1M105 38h2M109 38h1M111 38h1M120 38h1M125 38h3M129 38h1M131 38h1M134 38h1M16 39h20M41 39h1M43 39h1M49 39h1M52 39h1M66 39h2M70 39h1M95 39h1M98 39h1M119 39h2M122 39h2M130 39h4M13 40h1M16 40h22M39 40h1M42 40h1M44 40h4M51 40h1M59 40h1M72 40h1M84 40h1M88 40h1M97 40h2M101 40h2M105 40h1M111 40h1M115 40h1M117 40h1M122 40h1M124 40h3M128 40h1M130 40h1M133 40h1M135 40h2M138 40h1M15 41h19M35 41h3M45 41h1M53 41h1M57 41h1M65 41h1M67 41h1M70 41h1M77 41h2M87 41h1M90 41h1M94 41h1M102 41h3M106 41h3M111 41h2M115 41h1M117 41h2M120 41h3M124 41h3M129 41h1M132 41h2M136 41h3M12 42h26M42 42h2M48 42h2M51 42h1M54 42h1M56 42h1M58 42h1M60 42h2M69 42h1M71 42h1M73 42h2M84 42h1M89 42h1M93 42h3M101 42h1M104 42h1M108 42h1M110 42h2M114 42h1M116 42h2M120 42h2M123 42h1M126 42h6M136 42h2M13 43h28M44 43h1M54 43h2M57 43h3M62 43h2M66 43h1M68 43h1M71 43h1M73 43h2M82 43h1M89 43h1M91 43h1M94 43h2M99 43h1M102 43h1M107 43h2M110 43h1M114 43h6M121 43h7M130 43h2M133 43h4M138 43h2M15 44h24M42 44h1M44 44h1M48 44h2M52 44h2M56 44h1M59 44h2M63 44h1M65 44h4M72 44h2M78 44h3M82 44h2M89 44h2M93 44h1M96 44h1M98 44h1M101 44h1M103 44h1M106 44h2M109 44h1M113 44h2M116 44h2M119 44h5M125 44h4M130 44h6M137 44h3M4 45h1M11 45h1M13 45h2M16 45h23M41 45h2M49 45h2M52 45h2M55 45h1M59 45h1M63 45h1M70 45h1M72 45h1M79 45h1M81 45h1M84 45h1M96 45h1M102 45h2M105 45h1M107 45h4M114 45h4M119 45h5M125 45h3M129 45h7M137 45h3M12 46h1M14 46h27M42 46h1M44 46h1M46 46h7M56 46h4M62 46h2M66 46h1M68 46h1M74 46h2M77 46h2M82 46h3M87 46h1M89 46h1M91 46h1M95 46h2M98 46h8M110 46h12M123 46h1M125 46h15M12 47h1M14 47h26M41 47h4M46 47h1M49 47h2M53 47h4M60 47h1M62 47h1M65 47h4M73 47h2M76 47h1M78 47h3M82 47h4M87 47h1M89 47h1M91 47h1M93 47h4M98 47h1M100 47h25M126 47h3M130 47h9M14 48h26M41 48h2M44 48h1M46 48h4M52 48h14M68 48h1M70 48h2M77 48h7M85 48h3M89 48h1M91 48h1M93 48h1M95 48h4M100 48h1M104 48h3M108 48h4M113 48h16M130 48h10M12 49h25M38 49h2M41 49h11M53 49h8M65 49h1M67 49h1M69 49h1M72 49h3M76 49h3M80 49h1M82 49h9M93 49h1M96 49h4M102 49h1M104 49h2M108 49h2M111 49h11M123 49h17M11 50h30M42 50h4M49 50h4M54 50h1M56 50h14M71 50h2M75 50h2M79 50h1M81 50h2M86 50h1M89 50h1M92 50h2M95 50h10M108 50h1M110 50h1M113 50h6M120 50h9M130 50h9M13 51h30M44 51h7M52 51h3M56 51h2M59 51h13M73 51h1M77 51h2M80 51h1M85 51h10M96 51h2M99 51h1M101 51h1M103 51h23M127 51h13M12 52h31M44 52h6M51 52h7M59 52h1M62 52h20M83 52h3M89 52h1M92 52h3M96 52h44M10 53h33M44 53h7M52 53h3M56 53h2M59 53h2M62 53h13M76 53h16M93 53h4M98 53h8M107 53h1M109 53h31M11 54h2M14 54h38M53 54h41M95 54h19M115 54h25M7 55h1M10 55h1M12 55h45M58 55h4M63 55h2M66 55h4M71 55h5M78 55h17M96 55h44M6 56h1M11 56h29M42 56h1M44 56h4M49 56h2M52 56h6M60 56h4M65 56h4M70 56h2M75 56h4M80 56h1M82 56h5M89 56h10M100 56h40M7 57h1M10 57h1M12 57h28M41 57h6M48 57h4M53 57h2M56 57h2M59 57h4M64 57h1M67 57h1M70 57h1M72 57h7M80 57h8M89 57h5M95 57h1M97 57h6M104 57h36M10 58h1M12 58h33M46 58h2M49 58h2M52 58h2M56 58h1M58 58h3M63 58h2M67 58h6M74 58h8M84 58h3M88 58h2M91 58h7M99 58h41M10 59h34M45 59h3M49 59h11M62 59h2M66 59h2M70 59h4M75 59h3M79 59h9M89 59h9M99 59h1M101 59h4M106 59h6M113 59h27M8 60h1M10 60h30M41 60h1M43 60h2M46 60h2M49 60h1M51 60h1M54 60h2M58 60h8M67 60h4M73 60h1M76 60h7M84 60h8M93 60h1M97 60h8M106 60h1M108 60h6M115 60h25M6 61h1M10 61h3M14 61h32M47 61h2M50 61h4M55 61h3M59 61h2M62 61h8M71 61h5M79 61h2M82 61h7M90 61h18M109 61h31M7 62h3M11 62h31M43 62h2M47 62h2M50 62h3M54 62h1M56 62h1M60 62h9M70 62h5M76 62h3M80 62h12M93 62h2M96 62h1M98 62h42M10 63h31M42 63h11M54 63h6M61 63h3M66 63h1M69 63h6M76 63h3M80 63h6M88 63h1M90 63h3M94 63h1M96 63h3M100 63h3M104 63h3M108 63h3M112 63h28M9 64h37M47 64h5M54 64h3M58 64h3M62 64h3M67 64h1M69 64h2M72 64h3M76 64h1M78 64h5M84 64h2M87 64h1M89 64h7M97 64h2M100 64h40M9 65h32M43 65h2M46 65h2M50 65h5M57 65h2M60 65h2M63 65h1M65 65h11M79 65h3M84 65h3M88 65h2M91 65h5M99 65h2M102 65h6M109 65h1M111 65h10M122 65h16M12 66h31M44 66h5M50 66h7M58 66h6M65 66h5M72 66h1M74 66h4M79 66h1M81 66h1M83 66h1M85 66h1M87 66h1M90 66h1M92 66h1M94 66h9M104 66h36M9 67h30M40 67h7M48 67h2M51 67h4M56 67h4M61 67h1M63 67h2M66 67h1M68 67h2M73 67h1M75 67h14M90 67h3M94 67h5M100 67h7M108 67h15M124 67h16M10 68h34M45 68h3M50 68h1M52 68h2M55 68h1M57 68h1M60 68h7M68 68h6M76 68h7M84 68h14M99 68h1M101 68h7M109 68h4M114 68h4M119 68h17M137 68h3M10 69h34M45 69h1M48 69h4M55 69h2M58 69h6M65 69h8M74 69h8M83 69h1M85 69h1M88 69h3M93 69h7M103 69h1M105 69h4M110 69h1M112 69h4M117 69h14M132 69h8M5 70h1M10 70h28M39 70h2M42 70h2M46 70h2M49 70h7M57 70h2M62 70h14M77 70h2M80 70h1M82 70h1M84 70h2M88 70h2M92 70h6M99 70h24M124 70h15M11 71h32M44 71h11M56 71h6M67 71h1M69 71h3M73 71h1M75 71h5M82 71h1M84 71h2M87 71h1M89 71h2M92 71h2M96 71h5M103 71h4M108 71h7M116 71h16M133 71h1M135 71h4M10 72h31M42 72h1M44 72h3M50 72h2M53 72h2M56 72h1M58 72h1M60 72h4M66 72h3M71 72h5M78 72h2M81 72h1M84 72h2M87 72h1M90 72h4M97 72h1M99 72h1M101 72h6M108 72h3M112 72h1M114 72h2M117 72h1M119 72h13M133 72h2M138 72h1M10 73h34M45 73h1M47 73h2M51 73h3M55 73h1M57 73h1M60 73h2M63 73h2M68 73h1M70 73h2M74 73h4M79 73h1M82 73h3M86 73h1M89 73h3M94 73h4M99 73h3M103 73h3M107 73h1M109 73h1M112 73h1M114 73h7M123 73h11M135 73h4M9 74h37M47 74h10M58 74h2M63 74h2M66 74h2M70 74h1M72 74h1M74 74h6M81 74h6M88 74h2M93 74h6M100 74h6M108 74h1M110 74h1M112 74h17M130 74h4M135 74h4M7 75h1M9 75h39M50 75h4M56 75h2M59 75h2M65 75h2M69 75h5M75 75h1M77 75h4M83 75h2M86 75h1M88 75h1M90 75h2M93 75h5M100 75h3M104 75h5M111 75h2M114 75h9M124 75h16M9 76h1M12 76h41M54 76h4M60 76h1M63 76h5M71 76h1M73 76h1M77 76h3M81 76h5M87 76h3M93 76h1M95 76h3M100 76h6M107 76h2M110 76h4M116 76h16M133 76h6M10 77h32M43 77h2M46 77h3M51 77h1M56 77h2M60 77h1M62 77h4M67 77h2M70 77h8M82 77h4M87 77h3M91 77h4M96 77h3M100 77h1M102 77h1M105 77h1M107 77h1M109 77h1M112 77h1M115 77h3M119 77h2M122 77h11M134 77h1M136 77h3M10 78h31M42 78h6M49 78h1M53 78h4M58 78h3M62 78h2M65 78h2M69 78h2M74 78h2M77 78h4M82 78h1M87 78h1M89 78h8M98 78h4M103 78h5M110 78h6M117 78h3M121 78h5M127 78h1M130 78h6M138 78h1M11 79h37M49 79h1M51 79h1M55 79h2M63 79h2M66 79h2M69 79h3M74 79h2M77 79h3M81 79h3M86 79h8M96 79h2M99 79h2M103 79h4M110 79h3M114 79h7M123 79h2M126 79h7M134 79h5M9 80h1M11 80h35M49 80h5M56 80h3M60 80h2M63 80h5M69 80h2M72 80h3M76 80h1M79 80h2M84 80h11M96 80h2M99 80h1M101 80h3M105 80h2M109 80h5M117 80h5M123 80h2M127 80h8M138 80h1M8 81h33M43 81h4M48 81h1M50 81h2M53 81h1M56 81h3M61 81h2M64 81h3M68 81h6M75 81h3M79 81h1M81 81h3M86 81h2M92 81h1M94 81h2M97 81h8M106 81h1M108 81h7M117 81h1M120 81h1M122 81h1M124 81h3M131 81h5M10 82h32M43 82h9M55 82h4M60 82h1M62 82h1M66 82h1M69 82h2M72 82h2M75 82h1M78 82h1M84 82h1M86 82h2M89 82h1M91 82h1M93 82h3M97 82h1M99 82h3M107 82h2M112 82h3M116 82h3M121 82h2M125 82h1M127 82h1M131 82h2M134 82h3M138 82h2M10 83h30M41 83h2M45 83h1M48 83h1M50 83h2M53 83h6M60 83h2M63 83h6M71 83h1M73 83h4M78 83h3M84 83h1M86 83h1M88 83h2M92 83h2M95 83h1M98 83h1M100 83h2M105 83h2M109 83h2M113 83h1M117 83h9M127 83h1M130 83h1M132 83h2M136 83h4M11 84h32M44 84h1M46 84h1M48 84h3M52 84h5M58 84h5M65 84h8M74 84h2M78 84h1M81 84h3M85 84h1M87 84h1M89 84h2M92 84h4M99 84h2M103 84h2M109 84h2M112 84h2M115 84h5M121 84h3M125 84h2M128 84h1M130 84h4M135 84h2M138 84h2M8 85h35M44 85h1M47 85h1M49 85h2M52 85h1M55 85h3M59 85h1M61 85h1M64 85h3M68 85h1M70 85h3M76 85h2M81 85h1M84 85h2M88 85h4M93 85h1M96 85h1M98 85h1M100 85h5M106 85h14M122 85h2M125 85h5M132 85h1M135 85h1M138 85h1M9 86h32M42 86h2M48 86h1M51 86h3M55 86h1M57 86h2M61 86h1M63 86h3M70 86h5M77 86h2M80 86h2M83 86h4M89 86h4M94 86h1M98 86h3M111 86h3M116 86h2M119 86h1M123 86h2M128 86h3M133 86h3M137 86h2M9 87h1M11 87h2M14 87h31M46 87h2M50 87h1M53 87h1M55 87h1M57 87h6M64 87h1M67 87h4M75 87h3M81 87h1M83 87h3M87 87h1M90 87h2M99 87h3M105 87h2M110 87h1M113 87h4M118 87h2M122 87h2M127 87h1M129 87h2M134 87h3M138 87h1M10 88h33M44 88h2M48 88h2M52 88h2M55 88h2M58 88h1M60 88h1M63 88h1M66 88h2M72 88h5M78 88h2M81 88h1M83 88h1M86 88h3M90 88h1M93 88h4M99 88h2M103 88h2M108 88h1M111 88h2M114 88h2M117 88h1M119 88h1M121 88h3M125 88h3M130 88h1M135 88h1M138 88h1M7 89h1M10 89h32M43 89h4M48 89h1M50 89h1M52 89h1M59 89h1M61 89h1M63 89h1M65 89h3M69 89h2M72 89h4M77 89h2M81 89h1M84 89h2M89 89h4M94 89h1M98 89h1M101 89h1M104 89h3M110 89h4M116 89h1M118 89h2M122 89h2M125 89h3M129 89h1M131 89h2M135 89h4M10 90h31M42 90h2M46 90h2M49 90h2M54 90h1M56 90h1M59 90h2M63 90h1M65 90h6M72 90h2M76 90h1M78 90h2M81 90h2M84 90h6M93 90h1M96 90h1M100 90h3M108 90h1M110 90h1M112 90h1M115 90h1M118 90h4M124 90h1M127 90h1M129 90h2M132 90h7M6 91h1M8 91h2M11 91h31M44 91h1M46 91h2M49 91h2M52 91h3M56 91h2M61 91h2M67 91h1M71 91h3M77 91h2M80 91h3M84 91h1M88 91h1M91 91h1M94 91h2M98 91h3M104 91h2M108 91h3M113 91h2M117 91h3M122 91h1M125 91h6M132 91h2M135 91h1M138 91h2M5 92h1M8 92h1M10 92h28M39 92h6M47 92h3M53 92h7M61 92h3M66 92h1M70 92h2M73 92h1M75 92h6M82 92h1M85 92h1M87 92h1M89 92h1M91 92h1M95 92h1M97 92h1M100 92h2M103 92h1M105 92h5M111 92h1M117 92h1M119 92h2M122 92h1M126 92h1M128 92h3M132 92h1M135 92h2M11 93h31M43 93h2M49 93h2M53 93h1M56 93h2M60 93h2M64 93h1M67 93h2M70 93h1M72 93h2M77 93h2M80 93h3M84 93h1M87 93h2M91 93h1M95 93h5M103 93h1M107 93h1M113 93h1M116 93h1M119 93h2M124 93h9M134 93h6M11 94h30M44 94h1M46 94h2M50 94h10M62 94h1M69 94h2M72 94h1M80 94h2M83 94h1M85 94h3M91 94h1M94 94h5M100 94h1M102 94h1M105 94h8M114 94h2M117 94h1M122 94h2M125 94h2M128 94h2M132 94h1M135 94h1M11 95h26M38 95h3M42 95h1M49 95h1M54 95h1M57 95h1M59 95h2M70 95h5M77 95h3M81 95h1M85 95h4M95 95h1M97 95h1M99 95h3M105 95h1M107 95h2M111 95h3M116 95h2M120 95h6M128 95h2M133 95h7M11 96h33M45 96h6M53 96h1M55 96h1M59 96h3M64 96h1M66 96h2M70 96h1M72 96h2M75 96h2M81 96h2M84 96h1M86 96h1M93 96h1M97 96h2M100 96h1M104 96h1M106 96h1M108 96h1M114 96h4M119 96h1M122 96h3M126 96h3M130 96h2M133 96h1M136 96h1M10 97h27M38 97h3M45 97h2M50 97h1M54 97h4M60 97h1M65 97h3M70 97h3M74 97h1M76 97h3M82 97h3M87 97h2M90 97h1M92 97h10M103 97h4M108 97h1M112 97h1M114 97h1M116 97h10M127 97h4M132 97h2M136 97h1M138 97h2M9 98h32M42 98h1M44 98h2M47 98h2M54 98h1M56 98h1M58 98h1M61 98h1M63 98h1M66 98h2M70 98h1M73 98h2M77 98h3M81 98h2M86 98h5M92 98h1M94 98h1M101 98h1M103 98h3M107 98h2M111 98h2M114 98h7M124 98h2M129 98h2M132 98h4M137 98h1M12 99h31M44 99h7M55 99h1M59 99h1M62 99h2M67 99h5M73 99h6M80 99h1M82 99h3M87 99h2M90 99h1M92 99h3M101 99h3M105 99h1M107 99h1M112 99h5M118 99h3M122 99h3M128 99h5M134 99h1M136 99h2M139 99h1M9 100h1M12 100h27M41 100h1M46 100h2M49 100h3M53 100h2M56 100h1M59 100h2M63 100h3M68 100h2M71 100h1M73 100h1M75 100h1M77 100h2M83 100h1M85 100h2M88 100h5M95 100h1M99 100h1M103 100h2M110 100h1M117 100h3M121 100h2M128 100h2M133 100h1M135 100h1M12 101h29M44 101h1M48 101h2M51 101h1M53 101h1M57 101h1M60 101h1M62 101h3M67 101h2M74 101h4M79 101h4M84 101h3M88 101h1M90 101h1M92 101h3M96 101h1M98 101h3M102 101h2M105 101h1M107 101h1M109 101h1M112 101h2M116 101h3M120 101h3M124 101h1M129 101h1M131 101h3M135 101h1M138 101h1M10 102h32M43 102h1M49 102h1M53 102h2M56 102h1M58 102h1M60 102h1M63 102h4M68 102h1M70 102h1M73 102h1M75 102h5M82 102h1M85 102h3M89 102h2M94 102h1M97 102h2M100 102h2M108 102h1M110 102h1M114 102h1M117 102h1M121 102h1M124 102h5M132 102h1M137 102h1M11 103h29M41 103h1M43 103h1M47 103h1M51 103h6M63 103h1M65 103h1M67 103h3M71 103h1M74 103h13M88 103h1M92 103h1M94 103h1M97 103h3M103 103h1M105 103h1M107 103h1M111 103h1M113 103h4M121 103h1M123 103h6M134 103h3M139 103h1M9 104h31M43 104h1M45 104h1M47 104h1M51 104h2M55 104h1M57 104h1M60 104h4M65 104h1M68 104h1M71 104h1M74 104h1M78 104h1M81 104h3M85 104h1M89 104h3M93 104h1M96 104h1M98 104h3M103 104h1M107 104h1M110 104h1M118 104h1M120 104h3M124 104h4M129 104h2M134 104h1M137 104h1M139 104h1M7 105h1M11 105h1M13 105h29M43 105h3M48 105h4M55 105h2M59 105h1M62 105h2M65 105h1M69 105h1M71 105h3M75 105h1M77 105h1M82 105h2M86 105h1M90 105h1M97 105h2M102 105h2M108 105h1M110 105h1M112 105h3M116 105h1M121 105h1M123 105h2M127 105h2M130 105h1M135 105h1M138 105h2M9 106h2M12 106h28M43 106h1M46 106h1M48 106h1M50 106h5M57 106h1M60 106h2M64 106h2M70 106h1M72 106h1M74 106h3M80 106h1M85 106h1M87 106h7M95 106h2M99 106h1M101 106h1M104 106h2M109 106h1M111 106h1M113 106h3M118 106h1M120 106h1M129 106h3M134 106h1M138 106h1M9 107h22M32 107h9M42 107h2M47 107h4M52 107h1M56 107h1M61 107h1M63 107h4M69 107h1M72 107h3M76 107h2M80 107h1M82 107h1M84 107h1M87 107h1M92 107h1M95 107h1M97 107h3M102 107h2M107 107h1M109 107h2M112 107h3M116 107h1M120 107h1M122 107h1M130 107h4M135 107h2M10 108h30M41 108h3M45 108h4M50 108h1M52 108h1M54 108h1M56 108h3M63 108h2M66 108h1M73 108h3M79 108h1M87 108h3M91 108h1M94 108h1M96 108h3M100 108h1M102 108h4M107 108h5M113 108h1M115 108h1M119 108h2M126 108h1M128 108h1M132 108h3M12 109h22M35 109h7M45 109h2M48 109h1M52 109h2M65 109h2M68 109h3M72 109h1M75 109h1M77 109h4M82 109h3M86 109h4M91 109h8M100 109h1M102 109h2M107 109h1M109 109h1M111 109h3M115 109h1M119 109h1M121 109h7M130 109h2M133 109h2M138 109h1M9 110h2M12 110h26M39 110h6M46 110h2M52 110h1M54 110h1M58 110h1M60 110h3M64 110h1M67 110h1M71 110h4M76 110h1M80 110h3M85 110h1M87 110h3M92 110h3M98 110h1M101 110h1M103 110h5M111 110h4M116 110h1M118 110h1M122 110h7M131 110h2M134 110h5M10 111h1M12 111h21M34 111h5M40 111h1M48 111h1M50 111h1M52 111h3M56 111h3M60 111h1M64 111h4M69 111h2M75 111h1M77 111h1M79 111h1M83 111h1M85 111h1M87 111h1M93 111h2M97 111h1M100 111h3M105 111h2M113 111h1M115 111h6M124 111h1M126 111h1M130 111h2M137 111h3M9 112h1M12 112h29M42 112h2M45 112h1M47 112h3M51 112h3M55 112h2M58 112h2M62 112h4M67 112h3M71 112h1M75 112h1M77 112h2M80 112h2M88 112h1M93 112h1M97 112h2M100 112h3M106 112h2M109 112h1M111 112h2M116 112h1M119 112h1M123 112h1M125 112h1M127 112h4M135 112h2M139 112h1M9 113h1M12 113h5M18 113h20M39 113h2M42 113h2M45 113h2M48 113h3M52 113h1M55 113h2M58 113h4M64 113h4M71 113h1M74 113h1M76 113h2M79 113h2M83 113h2M86 113h1M89 113h1M91 113h3M96 113h1M101 113h3M105 113h2M108 113h1M110 113h1M113 113h3M118 113h2M122 113h1M124 113h2M129 113h3M133 113h2M136 113h3M15 114h1M18 114h1M20 114h13M34 114h2M39 114h1M41 114h1M45 114h1M47 114h1M55 114h1M66 114h1M83 114h1M93 114h1M97 114h2M112 114h2M132 114h1M135 114h1M14 115h2M19 115h6M26 115h7M34 115h2M37 115h1M39 115h1M41 115h1M74 115h1M15 116h3M19 116h6M26 116h9M41 116h1M44 116h1M47 116h1M49 116h1M52 116h1M63 116h1M65 116h1M69 116h1M119 116h1M15 117h12M28 117h8M37 117h1M41 117h1M43 117h1M45 117h3M53 117h1M55 117h1M57 117h3M64 117h1M74 117h1M79 117h1M100 117h1M116 117h1M130 117h1M13 118h1M16 118h21M38 118h2M41 118h1M44 118h4M49 118h1M53 118h5M60 118h1M63 118h1M67 118h1M74 118h1M77 118h1M80 118h1M84 118h1M14 119h27M43 119h1M45 119h1M50 119h2M54 119h3M58 119h1M61 119h1M65 119h2M68 119h1M76 119h1M78 119h1M84 119h2M92 119h1M96 119h1M99 119h1M105 119h1M114 119h1M13 120h16M30 120h7M38 120h3M42 120h1M47 120h1M49 120h4M54 120h5M60 120h2M64 120h1M77 120h1M79 120h2M87 120h1M99 120h1M12 121h1M14 121h1M16 121h24M41 121h1M46 121h1M49 121h2M62 121h1M64 121h3M69 121h3M73 121h1M83 121h1M86 121h1M92 121h1M97 121h1M104 121h1M110 121h1M12 122h2M15 122h24M40 122h3M45 122h2M49 122h1M51 122h9M65 122h3M69 122h1M72 122h1M77 122h1M86 122h2M89 122h1M100 122h1M102 122h1M134 122h1M12 123h1M15 123h25M41 123h1M45 123h1M47 123h2M50 123h2M56 123h3M60 123h2M77 123h2M100 123h1M107 123h1M113 123h1M123 123h1M12 124h1M14 124h22M37 124h1M39 124h2M44 124h3M61 124h1M63 124h2M66 124h2M85 124h1M87 124h1M105 124h1M109 124h1M13 125h27M45 125h1M57 125h1M66 125h1M78 125h1M84 125h1M15 126h19M35 126h1M37 126h1M47 126h1M50 126h1M124 126h1M16 127h2M19 127h13M33 127h3M38 127h1M44 127h1M129 127h1M18 128h3M22 128h1M26 128h8M64 128h2M23 129h1M27 129h1M29 129h1M31 129h1M52 129h1"/>
<path stroke="#2d489d" d="M25 40h1M28 40h1M27 41h1M32 41h1M19 42h1M26 42h2M29 42h1M23 43h3M27 43h4M24 44h5M30 44h1M20 45h1M22 45h10M22 46h10M20 47h1M22 47h8M31 47h1M20 48h12M22 49h12M138 49h1M19 50h15M19 51h14M20 52h13M36 52h1M14 53h1M18 53h16M18 54h17M128 54h1M18 55h17M37 55h1M122 55h1M18 56h18M18 57h17M19 58h17M16 59h1M18 59h18M127 59h1M130 59h1M16 60h1M18 60h18M18 61h17M36 61h2M17 62h19M37 62h1M135 62h1M17 63h18M17 64h1M19 64h16M36 64h1M126 64h1M18 65h17M36 65h1M15 66h2M18 66h17M36 66h1M15 67h2M18 67h20M17 68h20M16 69h19M17 70h20M18 71h17M17 72h1M19 72h18M16 73h21M16 74h21M17 75h22M17 76h19M18 77h17M36 77h1M18 78h17M18 79h17M37 79h1M18 80h18M18 81h17M17 82h19M17 83h1M19 83h16M17 84h18M36 84h1M18 85h16M17 86h18M18 87h17M18 88h15M34 88h1M18 89h1M20 89h13M19 90h15M17 91h1M19 91h16M18 92h15M20 93h13M18 94h1M20 94h13M20 95h13M34 95h1M21 96h10M32 96h2M21 97h13M20 98h14M21 99h11M21 100h10M32 100h1M22 101h9M20 102h1M22 102h10M22 103h8M31 103h1M22 104h9M22 105h8M31 105h1M23 106h6M30 106h1M23 107h6M23 108h5M29 108h1M32 108h1M25 109h1M27 109h1M25 110h1M24 111h2M27 111h1M22 112h1M24 112h1M26 112h1M25 113h1M27 113h1M22 120h1M34 121h1M28 123h1M32 123h1"/>
<path stroke="#3164a4" d="M26 42h1M25 43h1M27 43h1M30 43h1M25 44h2M28 44h1M30 44h1M22 45h4M27 45h5M22 46h10M20 47h1M22 47h2M25 47h5M31 47h1M21 48h11M22 49h9M33 49h1M21 50h13M20 51h13M20 52h13M20 53h14M19 54h15M128 54h1M19 55h16M18 56h18M18 57h17M19 58h17M16 59h1M18 59h18M130 59h1M18 60h16M35 60h1M18 61h17M36 61h2M17 62h18M17 63h18M19 64h16M18 65h17M16 66h1M18 66h17M18 67h19M17 68h19M17 69h18M17 70h20M18 71h17M19 72h17M17 73h19M18 74h17M36 74h1M17 75h20M17 76h19M19 77h16M36 77h1M18 78h17M18 79h1M20 79h15M18 80h17M18 81h17M17 82h18M19 83h16M17 84h1M19 84h15M18 85h16M17 86h1M19 86h16M18 87h17M18 88h15M20 89h13M19 90h13M33 90h1M21 91h11M33 91h2M18 92h1M20 92h13M20 93h12M18 94h1M20 94h13M21 95h10M32 95h1M21 96h10M32 96h1M21 97h10M33 97h1M20 98h14M22 99h9M21 100h10M32 100h1M22 101h8M23 102h8M22 103h8M23 104h5M29 104h2M23 105h4M28 105h1M31 105h1M24 106h5M30 106h1M23 107h5M23 108h1M27 108h1M27 109h1M25 110h1M24 111h2M24 112h1M27 113h1"/>
<path stroke="#368a94" d="M25 43h1M30 43h1M25 44h2M28 44h1M30 44h1M22 45h2M25 45h1M29 45h1M23 46h9M20 47h1M22 47h2M25 47h5M21 48h1M23 48h7M31 48h1M22 49h9M33 49h1M21 50h12M20 51h1M22 51h11M20 52h13M20 53h14M19 54h15M128 54h1M19 55h14M34 55h1M18 56h17M18 57h17M19 58h17M19 59h17M18 60h16M35 60h1M19 61h16M37 61h1M18 62h17M17 63h18M19 64h16M18 65h17M19 66h16M19 67h17M17 68h19M17 69h1M19 69h15M18 70h16M36 70h1M18 71h17M19 72h17M18 73h18M18 74h17M19 75h16M19 76h16M19 77h16M18 78h17M18 79h1M20 79h15M18 80h16M20 81h15M17 82h18M19 83h15M19 84h15M18 85h1M20 85h14M20 86h14M18 87h17M18 88h15M20 89h13M19 90h13M21 91h11M20 92h13M21 93h11M20 94h13M21 95h10M21 96h10M32 96h1M21 97h10M21 98h10M22 99h7M21 100h1M23 100h8M23 101h7M23 102h8M22 103h1M24 103h5M23 104h1M25 104h3M23 105h4M24 106h2M27 106h2M30 106h1M24 107h4M27 108h1M25 110h1M24 111h2"/>
<path stroke="#43a35c" d="M25 43h1M26 44h1M28 44h1M23 45h1M25 45h1M25 46h4M30 46h1M20 47h1M22 47h2M25 47h5M21 48h1M23 48h7M31 48h1M22 49h9M33 49h1M21 50h11M22 51h11M20 52h13M21 53h11M33 53h1M21 54h13M19 55h14M34 55h1M19 56h16M18 57h1M20 57h14M19 58h16M20 59h15M19 60h15M35 60h1M19 61h16M18 62h16M18 63h16M19 64h16M18 65h1M20 65h15M19 66h16M19 67h15M35 67h1M17 68h3M21 68h15M19 69h14M18 70h16M18 71h17M19 72h17M18 73h18M18 74h17M19 75h16M19 76h16M20 77h15M18 78h17M20 79h15M18 80h16M20 81h15M18 82h1M20 82h15M19 83h15M19 84h15M20 85h14M20 86h14M19 87h1M21 87h14M19 88h14M20 89h12M21 90h11M21 91h11M20 92h13M21 93h11M21 94h12M21 95h1M23 95h8M21 96h10M21 97h10M21 98h10M23 99h6M23 100h6M30 100h1M23 101h7M23 102h8M22 103h1M24 103h5M23 104h1M25 104h3M24 105h3M24 106h2M27 106h2M24 107h1M27 107h1M27 108h1M24 111h1"/>
<path stroke="#6dae3e" d="M26 44h1M28 46h1M22 47h1M26 47h3M23 48h1M25 48h1M27 48h2M23 49h8M23 50h9M22 51h8M31 51h2M22 52h11M22 53h10M21 54h12M20 55h13M20 56h14M20 57h14M19 58h1M21 58h12M34 58h1M20 59h13M34 59h1M20 60h14M19 61h13M19 62h1M21 62h13M20 63h14M20 64h14M20 65h15M19 66h15M20 67h14M21 68h13M19 69h14M19 70h15M20 71h15M20 72h13M18 73h1M20 73h14M19 74h15M20 75h15M19 76h15M20 77h13M34 77h1M18 78h15M20 79h14M20 80h13M20 81h14M20 82h14M19 83h14M20 84h13M20 85h13M20 86h13M19 87h1M21 87h12M21 88h12M20 89h12M21 90h11M22 91h10M21 92h10M21 93h11M22 94h9M21 95h1M23 95h8M23 96h8M22 97h8M23 98h6M23 99h6M23 100h6M23 101h5M23 102h3M27 102h2M26 103h1M25 104h1M27 104h1M26 105h1M25 106h1"/>
<path stroke="#8fb52f" d="M23 48h1M25 48h1M27 48h1M23 50h7M24 51h6M22 52h8M23 53h8M23 54h8M21 55h10M22 56h11M20 57h13M21 58h12M20 59h13M21 60h12M21 61h11M21 62h12M21 63h12M21 64h12M20 65h12M19 66h15M20 67h12M33 67h1M21 68h13M21 69h12M20 70h12M20 71h12M33 71h1M21 72h12M21 73h12M19 74h14M20 75h13M20 76h1M22 76h11M20 77h13M19 78h1M21 78h11M21 79h11M20 80h12M21 81h13M21 82h12M21 83h10M21 84h1M23 84h10M20 85h12M22 86h10M22 87h10M22 88h11M22 89h10M22 90h8M31 90h1M22 91h9M22 92h9M23 93h8M22 94h1M24 94h6M23 95h3M27 95h3M24 96h6M23 97h5M24 98h3M24 99h2M27 99h1M24 100h2M27 100h2M24 101h3M27 104h1M25 106h1"/>
<path stroke="#c4c838" d="M26 53h1M25 54h3M26 55h1M28 55h3M25 56h4M24 57h6M25 58h1M27 58h2M23 59h7M23 60h7M24 61h6M22 62h1M24 62h7M23 63h6M24 64h2M27 64h4M23 65h6M30 65h1M23 66h8M25 67h5M24 68h6M23 69h7M23 70h5M29 70h2M24 71h7M24 72h6M24 73h6M23 74h1M25 74h5M23 75h7M23 76h7M24 77h6M24 78h7M23 79h7M23 80h6M30 80h1M23 81h7M23 82h7M24 83h6M24 84h6M24 85h1M26 85h2M29 85h1M25 86h2M28 86h2M24 87h6M23 88h1M25 88h2M25 89h1M27 89h2M25 90h1M25 91h1M27 91h1M27 92h1"/>
<path stroke="#e3d746" d="M25 56h3M24 57h3M29 57h1M25 58h1M27 58h2M24 59h6M25 60h2M28 60h2M25 61h5M24 62h1M26 62h3M25 63h4M24 64h2M27 64h3M25 65h3M30 65h1M26 66h3M25 67h2M29 67h1M24 68h5M24 69h4M29 69h1M24 70h4M30 70h1M24 71h6M24 72h3M28 72h1M24 73h5M25 74h4M23 75h7M24 76h1M26 76h3M24 77h5M24 78h2M27 78h2M24 79h5M23 80h2M26 80h3M24 81h1M26 81h3M24 82h1M26 82h1M29 82h1M24 83h5M24 84h5M26 85h1M26 86h1M28 86h2M26 87h2M26 88h1M25 89h1M27 89h1M27 91h1"/>
<path stroke="#e9a33a" d="M26 57h1M25 58h1M28 58h1M25 59h1M27 59h2M25 60h2M28 60h1M26 61h1M28 61h1M24 62h1M26 62h3M27 63h1M24 64h2M27 64h3M25 65h1M27 65h1M26 68h2M25 69h2M25 70h1M27 70h1M27 71h1M28 72h1M26 73h1M28 73h1M25 74h2M28 74h1M26 75h2M26 76h1M28 76h1M26 77h2M24 78h2M27 78h2M24 79h1M26 79h2M27 80h1M26 81h1M28 81h1M26 82h1M24 83h1M26 84h3M26 85h1M26 86h1M26 87h2"/>
<path stroke="#e3552e" d="M26 57h1M27 59h1M26 60h1M26 62h2M25 64h1M25 65h1M27 68h1M25 69h1M26 74h1M28 74h1M26 77h1M25 78h1M28 78h1M26 81h1M27 84h2M26 85h1"/>
</g>
<path d="M373.1 164.6H717.6V509.3H373.1ZM456.25 164.6V509.3M373.1 439H717.6" fill="none" stroke="#000" stroke-width="3.3" stroke-linejoin="miter"/><path d="M373.1 509.3v10.6M373.1 509.3h-10.4M409 509.3v10.6M373.1 473.4h-10.4M445 509.3v10.6M373.1 437.4h-10.4M531.9 509.3v10.6M373.1 350.5h-10.4M621.9 509.3v10.6M373.1 260.5h-10.4M717.6 509.3v10.6M373.1 164.8h-10.4M469 509.3v7.6M373.1 413.4h-7.4M493 509.3v7.6M373.1 389.4h-7.4M507.8 509.3v7.6M373.1 374.6h-7.4M519.8 509.3v7.6M373.1 362.6h-7.4M559 509.3v7.6M373.1 323.4h-7.4M585.6 509.3v7.6M373.1 296.8h-7.4M604 509.3v7.6M373.1 278.4h-7.4M612.8 509.3v7.6M373.1 269.6h-7.4M651.6 509.3v7.6M373.1 230.8h-7.4M678.5 509.3v7.6M373.1 203.9h-7.4M696.5 509.3v7.6M373.1 185.9h-7.4M708.7 509.3v7.6M373.1 173.7h-7.4" fill="none" stroke="#000" stroke-width="3"/>
<path d="M833.1 164.6H1177.6V509.3H833.1ZM921.25 164.6V509.3M833.1 439.6H1177.6" fill="none" stroke="#000" stroke-width="3.3" stroke-linejoin="miter"/><path d="M833.1 509.3v10.6M833.1 509.3h-10.4M869 509.3v10.6M833.1 473.4h-10.4M905 509.3v10.6M833.1 437.4h-10.4M991.9 509.3v10.6M833.1 350.5h-10.4M1081.9 509.3v10.6M833.1 260.5h-10.4M1177.6 509.3v10.6M833.1 164.8h-10.4M929 509.3v7.6M833.1 413.4h-7.4M953 509.3v7.6M833.1 389.4h-7.4M967.8 509.3v7.6M833.1 374.6h-7.4M979.8 509.3v7.6M833.1 362.6h-7.4M1019 509.3v7.6M833.1 323.4h-7.4M1045.6 509.3v7.6M833.1 296.8h-7.4M1064 509.3v7.6M833.1 278.4h-7.4M1072.8 509.3v7.6M833.1 269.6h-7.4M1111.6 509.3v7.6M833.1 230.8h-7.4M1138.5 509.3v7.6M833.1 203.9h-7.4M1156.5 509.3v7.6M833.1 185.9h-7.4M1168.7 509.3v7.6M833.1 173.7h-7.4" fill="none" stroke="#000" stroke-width="3"/>
<path d="M1291.5 164.6H1636V509.3H1291.5ZM1387.25 164.6V509.3M1291.5 444H1636" fill="none" stroke="#000" stroke-width="3.3" stroke-linejoin="miter"/><path d="M1291.5 509.3v10.6M1291.5 509.3h-10.4M1327.4 509.3v10.6M1291.5 473.4h-10.4M1363.4 509.3v10.6M1291.5 437.4h-10.4M1450.3 509.3v10.6M1291.5 350.5h-10.4M1540.3 509.3v10.6M1291.5 260.5h-10.4M1636 509.3v10.6M1291.5 164.8h-10.4M1387.4 509.3v7.6M1291.5 413.4h-7.4M1411.4 509.3v7.6M1291.5 389.4h-7.4M1426.2 509.3v7.6M1291.5 374.6h-7.4M1438.2 509.3v7.6M1291.5 362.6h-7.4M1477.4 509.3v7.6M1291.5 323.4h-7.4M1504 509.3v7.6M1291.5 296.8h-7.4M1522.4 509.3v7.6M1291.5 278.4h-7.4M1531.2 509.3v7.6M1291.5 269.6h-7.4M1570 509.3v7.6M1291.5 230.8h-7.4M1596.9 509.3v7.6M1291.5 203.9h-7.4M1614.9 509.3v7.6M1291.5 185.9h-7.4M1627.1 509.3v7.6M1291.5 173.7h-7.4" fill="none" stroke="#000" stroke-width="3"/>
<text class="b" transform="translate(461.33 108.75) scale(0.97 1)" font-size="39.53" stroke="#000" stroke-width="1.3" stroke-linejoin="round">CytoStim</text>
<text class="b" transform="translate(972.19 108.75) scale(0.84 1)" font-size="39.53" stroke="#000" stroke-width="1.3" stroke-linejoin="round">SEB</text>
<text class="b" transform="translate(1317.85 108.75) scale(0.98 1)" font-size="39.53" stroke="#000" stroke-width="1.3" stroke-linejoin="round">PMA/Ionomycin</text>
<text class="b" transform="translate(291.4 415.82) rotate(-90) scale(0.87 1)" font-size="42.44">CD154</text>
<text class="b" transform="translate(368.13 607.25) scale(0.89 1)" font-size="41.42">IFN-γ</text>
<text class="b" transform="translate(313.16 174.7) scale(0.96 1)" font-size="29.65">10</text>
<text class="b" transform="translate(345.03 160.2) scale(0.96 1)" font-size="16.42" stroke="#000" stroke-width="0.6" stroke-linejoin="round">3</text>
<text class="b" transform="translate(313.16 268.7) scale(0.96 1)" font-size="29.65">10</text>
<text class="b" transform="translate(345.02 254.2) scale(0.96 1)" font-size="16.42" stroke="#000" stroke-width="0.6" stroke-linejoin="round">2</text>
<text class="b" transform="translate(315.61 358.6) scale(0.96 1)" font-size="29.65">10</text>
<text class="b" transform="translate(347.26 344.2) scale(0.96 1)" font-size="16.42" stroke="#000" stroke-width="0.6" stroke-linejoin="round">1</text>
<text class="b" transform="translate(336.32 447.8) scale(0.96 1)" font-size="29.65">1</text>
<text class="b" transform="translate(338.54 482.4) scale(0.96 1)" font-size="29.22">0</text>
<text class="b" transform="translate(325.98 519.3) scale(0.96 1)" font-size="29.65">-1</text>
<text class="b" transform="translate(352.89 552.25) scale(0.96 1)" font-size="29.58">-1</text>
<text class="b" transform="translate(401.1 552.25) scale(0.96 1)" font-size="29.58">0</text>
<text class="b" transform="translate(435.39 552.25) scale(0.96 1)" font-size="29.58">1</text>
<text class="b" transform="translate(512.08 552.25) scale(0.96 1)" font-size="29.58">10</text>
<text class="b" transform="translate(542.23 537.8) scale(0.96 1)" font-size="16.42" stroke="#000" stroke-width="0.6" stroke-linejoin="round">1</text>
<text class="b" transform="translate(601.25 552.25) scale(0.96 1)" font-size="29.58">10</text>
<text class="b" transform="translate(633.07 537.8) scale(0.96 1)" font-size="16.42" stroke="#000" stroke-width="0.6" stroke-linejoin="round">2</text>
<text class="b" transform="translate(697.88 552.25) scale(0.96 1)" font-size="29.58">10</text>
<text class="b" transform="translate(729.48 537.8) scale(0.96 1)" font-size="16.42" stroke="#000" stroke-width="0.6" stroke-linejoin="round">3</text>
<text class="b" transform="translate(773.16 174.7) scale(0.96 1)" font-size="29.65">10</text>
<text class="b" transform="translate(805.03 160.2) scale(0.96 1)" font-size="16.42" stroke="#000" stroke-width="0.6" stroke-linejoin="round">3</text>
<text class="b" transform="translate(773.16 268.7) scale(0.96 1)" font-size="29.65">10</text>
<text class="b" transform="translate(805.02 254.2) scale(0.96 1)" font-size="16.42" stroke="#000" stroke-width="0.6" stroke-linejoin="round">2</text>
<text class="b" transform="translate(775.61 358.6) scale(0.96 1)" font-size="29.65">10</text>
<text class="b" transform="translate(807.26 344.2) scale(0.96 1)" font-size="16.42" stroke="#000" stroke-width="0.6" stroke-linejoin="round">1</text>
<text class="b" transform="translate(796.32 447.8) scale(0.96 1)" font-size="29.65">1</text>
<text class="b" transform="translate(798.54 482.4) scale(0.96 1)" font-size="29.22">0</text>
<text class="b" transform="translate(785.98 519.3) scale(0.96 1)" font-size="29.65">-1</text>
<text class="b" transform="translate(812.89 552.25) scale(0.96 1)" font-size="29.58">-1</text>
<text class="b" transform="translate(861.1 552.25) scale(0.96 1)" font-size="29.58">0</text>
<text class="b" transform="translate(895.39 552.25) scale(0.96 1)" font-size="29.58">1</text>
<text class="b" transform="translate(972.08 552.25) scale(0.96 1)" font-size="29.58">10</text>
<text class="b" transform="translate(1002.23 537.8) scale(0.96 1)" font-size="16.42" stroke="#000" stroke-width="0.6" stroke-linejoin="round">1</text>
<text class="b" transform="translate(1061.25 552.25) scale(0.96 1)" font-size="29.58">10</text>
<text class="b" transform="translate(1093.07 537.8) scale(0.96 1)" font-size="16.42" stroke="#000" stroke-width="0.6" stroke-linejoin="round">2</text>
<text class="b" transform="translate(1157.88 552.25) scale(0.96 1)" font-size="29.58">10</text>
<text class="b" transform="translate(1189.48 537.8) scale(0.96 1)" font-size="16.42" stroke="#000" stroke-width="0.6" stroke-linejoin="round">3</text>
<text class="b" transform="translate(1231.56 174.7) scale(0.96 1)" font-size="29.65">10</text>
<text class="b" transform="translate(1263.43 160.2) scale(0.96 1)" font-size="16.42" stroke="#000" stroke-width="0.6" stroke-linejoin="round">3</text>
<text class="b" transform="translate(1231.56 268.7) scale(0.96 1)" font-size="29.65">10</text>
<text class="b" transform="translate(1263.42 254.2) scale(0.96 1)" font-size="16.42" stroke="#000" stroke-width="0.6" stroke-linejoin="round">2</text>
<text class="b" transform="translate(1234.01 358.6) scale(0.96 1)" font-size="29.65">10</text>
<text class="b" transform="translate(1265.66 344.2) scale(0.96 1)" font-size="16.42" stroke="#000" stroke-width="0.6" stroke-linejoin="round">1</text>
<text class="b" transform="translate(1254.72 447.8) scale(0.96 1)" font-size="29.65">1</text>
<text class="b" transform="translate(1256.94 482.4) scale(0.96 1)" font-size="29.22">0</text>
<text class="b" transform="translate(1244.38 519.3) scale(0.96 1)" font-size="29.65">-1</text>
<text class="b" transform="translate(1271.29 552.25) scale(0.96 1)" font-size="29.58">-1</text>
<text class="b" transform="translate(1319.5 552.25) scale(0.96 1)" font-size="29.58">0</text>
<text class="b" transform="translate(1353.79 552.25) scale(0.96 1)" font-size="29.58">1</text>
<text class="b" transform="translate(1430.48 552.25) scale(0.96 1)" font-size="29.58">10</text>
<text class="b" transform="translate(1460.63 537.8) scale(0.96 1)" font-size="16.42" stroke="#000" stroke-width="0.6" stroke-linejoin="round">1</text>
<text class="b" transform="translate(1519.65 552.25) scale(0.96 1)" font-size="29.58">10</text>
<text class="b" transform="translate(1551.47 537.8) scale(0.96 1)" font-size="16.42" stroke="#000" stroke-width="0.6" stroke-linejoin="round">2</text>
<text class="b" transform="translate(1616.28 552.25) scale(0.96 1)" font-size="29.58">10</text>
<text class="b" transform="translate(1647.88 537.8) scale(0.96 1)" font-size="16.42" stroke="#000" stroke-width="0.6" stroke-linejoin="round">3</text>
<text transform="translate(378.3 191.1) scale(0.92 1)" font-size="23.4">72.45%</text>
<text transform="translate(648.88 191.1) scale(0.94 1)" font-size="23.4">6.35%</text>
<text transform="translate(650.06 501.5) scale(0.93 1)" font-size="23.26">0.55%</text>
<text transform="translate(839.21 191.2) scale(0.93 1)" font-size="23.4">25.75%</text>
<text transform="translate(1115.48 191.2) scale(0.86 1)" font-size="23.4">7.10%</text>
<text transform="translate(1110.75 501.6) scale(0.93 1)" font-size="23.4">0.43%</text>
<text transform="translate(1305.85 191.2) scale(0.88 1)" font-size="23.4">77.31%</text>
<text transform="translate(1559.93 191.2) scale(0.88 1)" font-size="23.4">19.76%</text>
<text transform="translate(1571.69 501.6) scale(0.89 1)" font-size="23.4">0.41%</text>
<path d="M494.4 592.9H1611" fill="none" stroke="#000" stroke-width="3.8"/>
<path d="M1609.6 582.2L1638.4 592.6L1609.6 603z" fill="#000"/>
</svg></body></html>
